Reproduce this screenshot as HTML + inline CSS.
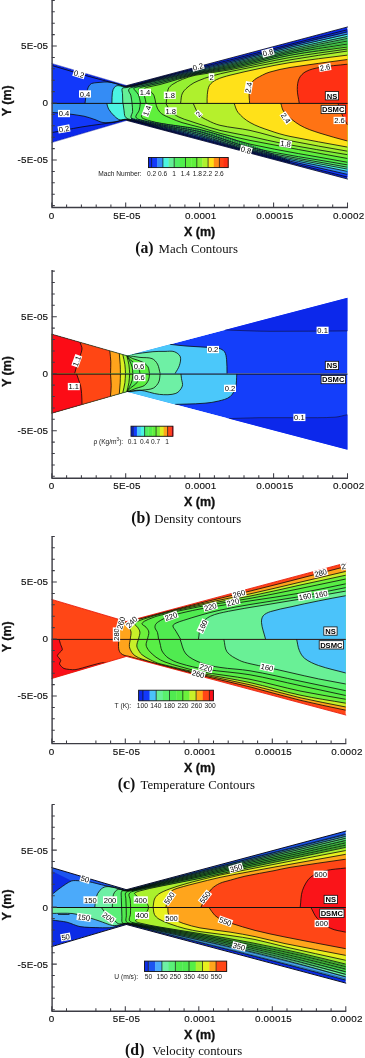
<!DOCTYPE html>
<html><head><meta charset="utf-8"><title>Nozzle contours</title>
<style>html,body{margin:0;padding:0;background:#fff}svg{display:block}</style></head>
<body>
<svg width="365" height="1058" viewBox="0 0 365 1058" font-family="'Liberation Sans',sans-serif">
<!-- panel a -->
<clipPath id="cau"><polygon points="51.8,103 51.8,63.5 126.8,85.6 347.5,27 347.5,103"/></clipPath>
<g clip-path="url(#cau)">
<polygon points="51.8,103 51.8,63.5 126.8,85.6 347.5,27 347.5,103" fill="#0c28eb"/>
<path d="M51.8 65.5C62.9 68.8 73.9 72.2 85 75.4C95 78.2 105 80.8 115 83.4C118.9 84.4 122.9 86.6 126.8 86.1C137.9 84.7 148.9 80.3 160 77.4C171.7 74.4 183.3 71.5 195 68.6C206.7 65.7 218.4 63 230 60C250 54.9 270 49.6 290 44.4C309.2 39.4 328.3 34.6 347.5 29.7L350.5 29.7L350.5 103L51.8 103Z" fill="#1238fa"/>
<path d="M85 103C85.3 100.5 85.6 98.1 86 95.6C86.4 93.5 86.9 91.4 87.5 89.4C87.9 88.2 88.3 86.9 89 85.9C89.6 85 90.5 84 91.5 83.5C93.2 82.9 95.2 82.8 97 82.6C99.3 82.3 101.7 82.1 104 82C106 82 108 81.9 110 82.2C112.7 82.6 115.4 83.4 118 84.1C121 84.9 123.8 87.1 126.8 86.6C137.8 85.1 148.9 80.9 160 78.1C171.6 75.2 183.3 72.4 195 69.6C206.7 66.9 218.4 64.5 230 61.6C250.1 56.6 270 51 290 45.9C309.1 41.1 328.3 36.6 347.5 31.9L350.5 31.9L350.5 103L85 103Z" fill="#348cf5"/>
<path d="M111.9 103C112.1 99.4 111.8 95.7 112.4 92.2C112.7 90.4 113.4 88.5 114.5 87.2C115.3 86.3 116.8 85.6 118 85.6C120.9 85.6 123.9 87.6 126.8 87.1C137.9 85.3 148.9 81.4 160 78.8C171.6 76 183.3 73.3 195 70.7C206.7 68 218.4 65.7 230 62.9C250.1 58 269.9 52.3 290 47.4C309.1 42.8 328.3 38.6 347.5 34.2L350.5 34.2L350.5 103L111.9 103Z" fill="#4bf5e1"/>
<path d="M122.8 103C122.7 99.9 122.6 96.8 122.5 93.7C122.4 91.9 121.5 89.5 122.3 88.4C123 87.4 125.3 87.9 126.8 87.5C137.9 84.9 148.9 82 160 79.4C171.6 76.7 183.3 74.1 195 71.6C206.7 69 218.4 66.8 230 64C250.1 59.2 269.9 53.7 290 48.9C309.1 44.5 328.3 40.6 347.5 36.4L350.5 36.4L350.5 103L122.8 103Z" fill="#64f096"/>
<path d="M132 103C131.6 100.4 131.5 97.8 130.8 95.2C130.3 93.5 128.5 91.7 128.6 90.1C128.7 89 130.2 87.7 131.5 87.3C140.7 84.4 150.5 82.4 160 80.2C171.6 77.5 183.3 75 195 72.5C206.7 70 218.4 67.8 230 65.1C250.1 60.5 269.9 55 290 50.5C309.1 46.1 328.3 42.4 347.5 38.4L350.5 38.4L350.5 103L132 103Z" fill="#50ee64"/>
<path d="M140.4 103C139.8 100.3 139.6 97.3 138.5 94.8C137.6 92.9 135.8 91.5 134.5 89.8C134.2 89.4 133.5 88.6 133.8 88.4C134.7 87.6 136.5 87.1 138 86.7C145.3 84.8 152.7 83.2 160 81.5C171.7 78.7 183.3 75.7 195 73.2C206.6 70.6 218.4 68.9 230 66.3C250.1 61.8 269.9 56.3 290 52C309.1 47.9 328.3 44.7 347.5 41L350.5 41L350.5 103L140.4 103Z" fill="#50ee4b"/>
<path d="M146 103C145.5 100.8 145.4 98.4 144.5 96.4C143.6 94.3 141.9 92.6 140.5 90.8C140 90.1 138.5 89.3 138.8 88.8C139.3 88 141.5 87.2 143 86.8C148.6 85.3 154.4 84.3 160 82.9C171.7 80 183.2 76.5 195 73.9C206.6 71.3 218.4 69.9 230 67.4C250.1 63.1 269.9 57.5 290 53.5C309 49.7 328.3 47.2 347.5 44L350.5 44L350.5 103L146 103Z" fill="#5ff03c"/>
<path d="M155.7 103C155.1 100.5 155 97.8 154 95.6C153.1 93.8 151.6 91.9 150 90.7C148.5 89.6 144.9 89.5 144.5 88.7C144.2 88.3 146.8 87.4 148 87.1C151.9 86 156 85.6 160 84.5C171.7 81.4 183.2 77.3 195 74.6C206.5 72 218.4 70.9 230 68.5C250.1 64.4 269.9 59 290 55.3C309 51.8 328.3 49.8 347.5 47L350.5 47L350.5 103L155.7 103Z" fill="#7df037"/>
<path d="M166.2 103C166.9 98.4 166.7 93.3 168.2 89.1C168.9 87 171.1 85.4 172.9 84.2C175.8 82.2 179.2 80.6 182.5 79.3C186.5 77.7 190.7 76.2 195 75.3C206.6 73 218.4 72 230 69.8C250.1 66.1 269.9 61 290 57.5C309.1 54.1 328.3 51.8 347.5 49L350.5 49L350.5 103L166.2 103Z" fill="#96f032"/>
<path d="M180.6 103C181.2 99.7 181 95.9 182.5 93C184.2 89.9 187.4 87.4 190.2 85.2C192.5 83.4 195.3 82 198 80.9C202.4 79 206.9 77.4 211.5 76.1C217.6 74.3 223.8 72.9 230 71.6C250 67.5 269.9 63.4 290 59.9C309.1 56.5 328.3 54 347.5 51L350.5 51L350.5 103L180.6 103Z" fill="#aff02d"/>
<path d="M207.1 103C207.2 100.2 206.9 97.3 207.3 94.5C207.7 91.4 207.9 87.8 209.5 85.3C211 82.9 213.8 81 216.4 79.7C220.6 77.7 225.4 76.4 230 75.2C239.9 72.7 250 70.5 260 68.4C270 66.3 279.9 64.1 290 62.6C309.1 59.7 328.3 57.6 347.5 55.1L350.5 55.1L350.5 103L207.1 103Z" fill="#ffe119"/>
<path d="M249.6 103C249.5 99.7 248.8 96.3 249.2 93C249.7 89.2 250.3 84.6 252.5 81.7C254.7 78.7 258.9 77.1 262.3 75.2C264.7 73.9 267.3 72.7 270 72C276.6 70.1 283.3 68.6 290 67.5C309.1 64.4 328.3 62.2 347.5 59.5L350.5 59.5L350.5 103L249.6 103Z" fill="#ff7314"/>
<path d="M299.2 103C298.6 98.5 297.3 94 297.3 89.5C297.3 85.8 297.6 81.6 299.2 78.4C300.5 75.6 303.2 72.9 306 71.5C310.1 69.3 315.1 68.3 319.8 67.4C328.9 65.8 338.3 65.3 347.5 64.2L350.5 64.2L350.5 103L299.2 103Z" fill="#ff3014"/>
<path d="M51.8 65.5C62.9 68.8 73.9 72.2 85 75.4C95 78.2 105 80.8 115 83.4C118.9 84.4 122.9 86.6 126.8 86.1C137.9 84.7 148.9 80.3 160 77.4C171.7 74.4 183.3 71.5 195 68.6C206.7 65.7 218.4 63 230 60C250 54.9 270 49.6 290 44.4C309.2 39.4 328.3 34.6 347.5 29.7" fill="none" stroke="#0a0a0a" stroke-width="0.8"/>
<path d="M85 103C85.3 100.5 85.6 98.1 86 95.6C86.4 93.5 86.9 91.4 87.5 89.4C87.9 88.2 88.3 86.9 89 85.9C89.6 85 90.5 84 91.5 83.5C93.2 82.9 95.2 82.8 97 82.6C99.3 82.3 101.7 82.1 104 82C106 82 108 81.9 110 82.2C112.7 82.6 115.4 83.4 118 84.1C121 84.9 123.8 87.1 126.8 86.6C137.8 85.1 148.9 80.9 160 78.1C171.6 75.2 183.3 72.4 195 69.6C206.7 66.9 218.4 64.5 230 61.6C250.1 56.6 270 51 290 45.9C309.1 41.1 328.3 36.6 347.5 31.9" fill="none" stroke="#0a0a0a" stroke-width="0.8"/>
<path d="M111.9 103C112.1 99.4 111.8 95.7 112.4 92.2C112.7 90.4 113.4 88.5 114.5 87.2C115.3 86.3 116.8 85.6 118 85.6C120.9 85.6 123.9 87.6 126.8 87.1C137.9 85.3 148.9 81.4 160 78.8C171.6 76 183.3 73.3 195 70.7C206.7 68 218.4 65.7 230 62.9C250.1 58 269.9 52.3 290 47.4C309.1 42.8 328.3 38.6 347.5 34.2" fill="none" stroke="#0a0a0a" stroke-width="0.8"/>
<path d="M122.8 103C122.7 99.9 122.6 96.8 122.5 93.7C122.4 91.9 121.5 89.5 122.3 88.4C123 87.4 125.3 87.9 126.8 87.5C137.9 84.9 148.9 82 160 79.4C171.6 76.7 183.3 74.1 195 71.6C206.7 69 218.4 66.8 230 64C250.1 59.2 269.9 53.7 290 48.9C309.1 44.5 328.3 40.6 347.5 36.4" fill="none" stroke="#0a0a0a" stroke-width="0.8"/>
<path d="M132 103C131.6 100.4 131.5 97.8 130.8 95.2C130.3 93.5 128.5 91.7 128.6 90.1C128.7 89 130.2 87.7 131.5 87.3C140.7 84.4 150.5 82.4 160 80.2C171.6 77.5 183.3 75 195 72.5C206.7 70 218.4 67.8 230 65.1C250.1 60.5 269.9 55 290 50.5C309.1 46.1 328.3 42.4 347.5 38.4" fill="none" stroke="#0a0a0a" stroke-width="0.8"/>
<path d="M140.4 103C139.8 100.3 139.6 97.3 138.5 94.8C137.6 92.9 135.8 91.5 134.5 89.8C134.2 89.4 133.5 88.6 133.8 88.4C134.7 87.6 136.5 87.1 138 86.7C145.3 84.8 152.7 83.2 160 81.5C171.7 78.7 183.3 75.7 195 73.2C206.6 70.6 218.4 68.9 230 66.3C250.1 61.8 269.9 56.3 290 52C309.1 47.9 328.3 44.7 347.5 41" fill="none" stroke="#0a0a0a" stroke-width="0.8"/>
<path d="M146 103C145.5 100.8 145.4 98.4 144.5 96.4C143.6 94.3 141.9 92.6 140.5 90.8C140 90.1 138.5 89.3 138.8 88.8C139.3 88 141.5 87.2 143 86.8C148.6 85.3 154.4 84.3 160 82.9C171.7 80 183.2 76.5 195 73.9C206.6 71.3 218.4 69.9 230 67.4C250.1 63.1 269.9 57.5 290 53.5C309 49.7 328.3 47.2 347.5 44" fill="none" stroke="#0a0a0a" stroke-width="0.8"/>
<path d="M155.7 103C155.1 100.5 155 97.8 154 95.6C153.1 93.8 151.6 91.9 150 90.7C148.5 89.6 144.9 89.5 144.5 88.7C144.2 88.3 146.8 87.4 148 87.1C151.9 86 156 85.6 160 84.5C171.7 81.4 183.2 77.3 195 74.6C206.5 72 218.4 70.9 230 68.5C250.1 64.4 269.9 59 290 55.3C309 51.8 328.3 49.8 347.5 47" fill="none" stroke="#0a0a0a" stroke-width="0.8"/>
<path d="M166.2 103C166.9 98.4 166.7 93.3 168.2 89.1C168.9 87 171.1 85.4 172.9 84.2C175.8 82.2 179.2 80.6 182.5 79.3C186.5 77.7 190.7 76.2 195 75.3C206.6 73 218.4 72 230 69.8C250.1 66.1 269.9 61 290 57.5C309.1 54.1 328.3 51.8 347.5 49" fill="none" stroke="#0a0a0a" stroke-width="0.8"/>
<path d="M180.6 103C181.2 99.7 181 95.9 182.5 93C184.2 89.9 187.4 87.4 190.2 85.2C192.5 83.4 195.3 82 198 80.9C202.4 79 206.9 77.4 211.5 76.1C217.6 74.3 223.8 72.9 230 71.6C250 67.5 269.9 63.4 290 59.9C309.1 56.5 328.3 54 347.5 51" fill="none" stroke="#0a0a0a" stroke-width="0.8"/>
<path d="M207.1 103C207.2 100.2 206.9 97.3 207.3 94.5C207.7 91.4 207.9 87.8 209.5 85.3C211 82.9 213.8 81 216.4 79.7C220.6 77.7 225.4 76.4 230 75.2C239.9 72.7 250 70.5 260 68.4C270 66.3 279.9 64.1 290 62.6C309.1 59.7 328.3 57.6 347.5 55.1" fill="none" stroke="#0a0a0a" stroke-width="0.8"/>
<path d="M249.6 103C249.5 99.7 248.8 96.3 249.2 93C249.7 89.2 250.3 84.6 252.5 81.7C254.7 78.7 258.9 77.1 262.3 75.2C264.7 73.9 267.3 72.7 270 72C276.6 70.1 283.3 68.6 290 67.5C309.1 64.4 328.3 62.2 347.5 59.5" fill="none" stroke="#0a0a0a" stroke-width="0.8"/>
<path d="M299.2 103C298.6 98.5 297.3 94 297.3 89.5C297.3 85.8 297.6 81.6 299.2 78.4C300.5 75.6 303.2 72.9 306 71.5C310.1 69.3 315.1 68.3 319.8 67.4C328.9 65.8 338.3 65.3 347.5 64.2" fill="none" stroke="#0a0a0a" stroke-width="0.8"/>
<path d="M131 87.9C140.7 86.5 150.4 85.5 160 83.6C171.8 81.1 183.2 77.2 195 74.7C206.6 72.3 218.4 71.4 230 69C250.1 64.9 269.9 59.3 290 55.2C309.1 51.4 328.3 48.6 347.5 45.3" fill="none" stroke="#04143a" stroke-width="0.5" stroke-opacity="0.6"/>
<path d="M131 87.4C140.7 85.8 150.4 84.5 160 82.5C171.8 79.9 183.2 76.1 195 73.6C206.6 71.1 218.4 69.9 230 67.4C250.1 63.1 269.9 57.5 290 53.3C309.1 49.2 328.3 46.1 347.5 42.5" fill="none" stroke="#04143a" stroke-width="0.5" stroke-opacity="0.6"/>
<path d="M131 86.9C140.7 85 150.4 83.5 160 81.3C171.7 78.7 183.3 75.1 195 72.5C206.6 69.9 218.4 68.3 230 65.7C250.1 61.3 269.9 55.8 290 51.3C309.1 47.1 328.3 43.5 347.5 39.6" fill="none" stroke="#04143a" stroke-width="0.5" stroke-opacity="0.6"/>
<path d="M131 86.4C140.7 84.3 150.4 82.5 160 80.2C171.7 77.5 183.3 74.1 195 71.4C206.6 68.7 218.4 66.8 230 64.1C250.1 59.4 269.9 54 290 49.3C309.1 44.9 328.3 41 347.5 36.8" fill="none" stroke="#04143a" stroke-width="0.5" stroke-opacity="0.6"/>
<path d="M131 85.8C140.7 83.6 150.4 81.5 160 79.1C171.7 76.3 183.3 73 195 70.2C206.6 67.5 218.4 65.3 230 62.5C250 57.6 270 52.2 290 47.4C309.1 42.7 328.3 38.4 347.5 33.9" fill="none" stroke="#04143a" stroke-width="0.5" stroke-opacity="0.6"/>
<path d="M131 85.3C140.7 82.9 150.3 80.4 160 78C171.7 75 183.3 72 195 69.1C206.6 66.3 218.4 63.7 230 60.8C250 55.8 270 50.4 290 45.4C309.1 40.5 328.3 35.8 347.5 31.1" fill="none" stroke="#04143a" stroke-width="0.5" stroke-opacity="0.6"/>
</g>
<clipPath id="cal"><polygon points="51.8,103 51.8,142.5 126.8,120.4 347.5,179 347.5,103"/></clipPath>
<g clip-path="url(#cal)">
<polygon points="51.8,103 51.8,142.5 126.8,120.4 347.5,179 347.5,103" fill="#0c28eb"/>
<path d="M51.8 132.6C56.2 131.8 60.6 130.9 65 130.1C70.7 129 76.3 127.8 82 126.9C88.5 125.8 95.1 125 101.7 124.1C106.1 123.5 110.6 122.9 115 122.2C119 121.5 122.9 119.3 126.8 119.9C137.9 121.4 148.9 125.7 160 128.6C173.3 132 186.7 135.4 200 138.9C216.7 143.3 233.3 148 250 152.4C282.5 160.8 315 168.9 347.5 177.1L350.5 177.1L350.5 103L51.8 103Z" fill="#1238fa"/>
<path d="M51.8 112.5C55.9 112.8 60 112.9 64 113.4C70.7 114.2 77.4 114.9 84 116.2C87.8 117 91.4 118.4 95 119.6C97.7 120.5 100.2 122.2 103 122.5C106.9 123 111 122.3 115 121.8C119 121.3 122.9 119 126.8 119.5C137.9 121 148.9 125.1 160 127.9C173.3 131.2 186.7 134.3 200 137.8C216.7 142.2 233.2 147.4 250 151.6C282.4 159.7 315 166.8 347.5 174.4L350.5 174.4L350.5 103L51.8 103Z" fill="#348cf5"/>
<path d="M106.7 103C107.3 105 107.5 107.2 108.6 109C110.1 111.6 112.2 114 114.4 116.1C116 117.6 117.9 119.4 120 119.9C122.1 120.4 124.6 118.8 126.8 119.2C137.9 121.2 148.9 124.5 160 127.1C173.3 130.3 186.8 133 200 136.5C216.8 140.9 233.1 146.9 250 150.9C282.3 158.5 315 164.6 347.5 171.4L350.5 171.4L350.5 103L106.7 103Z" fill="#4bf5e1"/>
<path d="M123 103C123.3 105.4 123.6 107.9 124 110.3C124.4 112.5 124.2 115.2 125.3 116.9C126.2 118.3 128.3 119 130 119.4C139.9 122.1 150 124.1 160 126.3C173.3 129.3 186.8 131.7 200 135.2C216.8 139.7 233.1 146.2 250 150.1C282.2 157.5 315 162.8 347.5 169.1L350.5 169.1L350.5 103L123 103Z" fill="#64f096"/>
<path d="M132 103C132.2 105.8 132.8 108.7 132.6 111.5C132.5 113.5 130.5 115.9 131 117.4C131.3 118.6 133.5 119.4 135 119.8C143.2 122.1 151.6 123.8 160 125.5C173.3 128.4 186.9 130.2 200 133.6C216.9 137.9 233 145 250 148.9C282.2 156.2 315 161.1 347.5 167.2L350.5 167.2L350.5 103L132 103Z" fill="#50ee64"/>
<path d="M140.3 103C139.9 105.4 140 108 139.2 110.2C138.5 112.4 136.1 114.5 135.8 116.5C135.7 117.4 136.9 118.7 138 119.1C145 121.4 152.6 123 160 124.5C173.3 127.2 186.9 128.4 200 131.7C216.9 136 233 143.6 250 147.4C282.2 154.7 315 159.1 347.5 164.9L350.5 164.9L350.5 103L140.3 103Z" fill="#50ee4b"/>
<path d="M146 103C145.7 105.2 145.9 107.4 145.2 109.5C144.4 111.8 141.9 114 141.5 116.2C141.3 117.1 142.5 118.4 143.5 118.7C148.7 120.7 154.4 122.1 160 123.2C173.2 125.7 186.9 126.5 200 129.5C216.9 133.4 233.1 140.3 250 144.1C282.2 151.3 315 156.2 347.5 162.3L350.5 162.3L350.5 103L146 103Z" fill="#5ff03c"/>
<path d="M155.7 103C156.2 104.7 156.5 106.6 157.3 108.1C158.4 110.1 159.7 112.3 161.5 113.6C164.4 115.8 168 117 171.3 118.5C174.8 120 178.4 121.4 182 122.6C187.9 124.4 194 125.6 200 127.3C206.7 129.2 213.3 131.6 220 133.3C229.9 135.9 239.9 138.4 250 140.4C282.4 146.8 315 152.4 347.5 158.5L350.5 158.5L350.5 103L155.7 103Z" fill="#7df037"/>
<path d="M165.6 103C167.3 105.7 168.5 108.8 170.7 111.1C172.9 113.5 175.9 115.5 178.8 117C182.3 118.8 186.2 119.8 190 121.1C193.3 122.3 196.7 123.3 200 124.4C206.7 126.4 213.2 128.8 220 130.4C229.9 132.8 240 134.2 250 136.3C261.9 138.8 273.7 141.9 285.6 144.1C306.2 148 326.9 151.2 347.5 154.7L350.5 154.7L350.5 103L165.6 103Z" fill="#9bf032"/>
<path d="M193 103C195 106.9 196.3 111.4 199 114.7C201.1 117.2 204.5 118.8 207.5 120.3C211.5 122.3 215.7 124.3 220 125.3C229.8 127.7 240.1 128.2 250 130.4C263.4 133.3 276.5 137.8 290 140.7C309 144.7 328.3 147.7 347.5 151.2L350.5 151.2L350.5 103L193 103Z" fill="#b6f02c"/>
<path d="M234 103C235.3 106.1 235.9 109.8 238 112.4C241.2 116.3 245.5 120 250 122.5C256.2 126.1 263.2 128.4 270 130.7C276.5 133 283.2 135 290 136.4C309.1 140.4 328.3 143.5 347.5 147.1L350.5 147.1L350.5 103L234 103Z" fill="#ffe119"/>
<path d="M280.7 103C281.8 106 282 109.6 284 111.9C288.4 117 294.1 121.7 300 125.2C306.1 128.8 313.2 131 320 133.2C329 136.2 338.3 138.4 347.5 141L350.5 141L350.5 103L280.7 103Z" fill="#ff7314"/>
<path d="M338 103C338.7 105.5 339 108.1 340 110.4C342.2 115.4 345 120.2 347.5 125L350.5 125L350.5 103L338 103Z" fill="#ff3014"/>
<path d="M51.8 132.6C56.2 131.8 60.6 130.9 65 130.1C70.7 129 76.3 127.8 82 126.9C88.5 125.8 95.1 125 101.7 124.1C106.1 123.5 110.6 122.9 115 122.2C119 121.5 122.9 119.3 126.8 119.9C137.9 121.4 148.9 125.7 160 128.6C173.3 132 186.7 135.4 200 138.9C216.7 143.3 233.3 148 250 152.4C282.5 160.8 315 168.9 347.5 177.1" fill="none" stroke="#0a0a0a" stroke-width="0.8"/>
<path d="M51.8 112.5C55.9 112.8 60 112.9 64 113.4C70.7 114.2 77.4 114.9 84 116.2C87.8 117 91.4 118.4 95 119.6C97.7 120.5 100.2 122.2 103 122.5C106.9 123 111 122.3 115 121.8C119 121.3 122.9 119 126.8 119.5C137.9 121 148.9 125.1 160 127.9C173.3 131.2 186.7 134.3 200 137.8C216.7 142.2 233.2 147.4 250 151.6C282.4 159.7 315 166.8 347.5 174.4" fill="none" stroke="#0a0a0a" stroke-width="0.8"/>
<path d="M106.7 103C107.3 105 107.5 107.2 108.6 109C110.1 111.6 112.2 114 114.4 116.1C116 117.6 117.9 119.4 120 119.9C122.1 120.4 124.6 118.8 126.8 119.2C137.9 121.2 148.9 124.5 160 127.1C173.3 130.3 186.8 133 200 136.5C216.8 140.9 233.1 146.9 250 150.9C282.3 158.5 315 164.6 347.5 171.4" fill="none" stroke="#0a0a0a" stroke-width="0.8"/>
<path d="M123 103C123.3 105.4 123.6 107.9 124 110.3C124.4 112.5 124.2 115.2 125.3 116.9C126.2 118.3 128.3 119 130 119.4C139.9 122.1 150 124.1 160 126.3C173.3 129.3 186.8 131.7 200 135.2C216.8 139.7 233.1 146.2 250 150.1C282.2 157.5 315 162.8 347.5 169.1" fill="none" stroke="#0a0a0a" stroke-width="0.8"/>
<path d="M132 103C132.2 105.8 132.8 108.7 132.6 111.5C132.5 113.5 130.5 115.9 131 117.4C131.3 118.6 133.5 119.4 135 119.8C143.2 122.1 151.6 123.8 160 125.5C173.3 128.4 186.9 130.2 200 133.6C216.9 137.9 233 145 250 148.9C282.2 156.2 315 161.1 347.5 167.2" fill="none" stroke="#0a0a0a" stroke-width="0.8"/>
<path d="M140.3 103C139.9 105.4 140 108 139.2 110.2C138.5 112.4 136.1 114.5 135.8 116.5C135.7 117.4 136.9 118.7 138 119.1C145 121.4 152.6 123 160 124.5C173.3 127.2 186.9 128.4 200 131.7C216.9 136 233 143.6 250 147.4C282.2 154.7 315 159.1 347.5 164.9" fill="none" stroke="#0a0a0a" stroke-width="0.8"/>
<path d="M146 103C145.7 105.2 145.9 107.4 145.2 109.5C144.4 111.8 141.9 114 141.5 116.2C141.3 117.1 142.5 118.4 143.5 118.7C148.7 120.7 154.4 122.1 160 123.2C173.2 125.7 186.9 126.5 200 129.5C216.9 133.4 233.1 140.3 250 144.1C282.2 151.3 315 156.2 347.5 162.3" fill="none" stroke="#0a0a0a" stroke-width="0.8"/>
<path d="M155.7 103C156.2 104.7 156.5 106.6 157.3 108.1C158.4 110.1 159.7 112.3 161.5 113.6C164.4 115.8 168 117 171.3 118.5C174.8 120 178.4 121.4 182 122.6C187.9 124.4 194 125.6 200 127.3C206.7 129.2 213.3 131.6 220 133.3C229.9 135.9 239.9 138.4 250 140.4C282.4 146.8 315 152.4 347.5 158.5" fill="none" stroke="#0a0a0a" stroke-width="0.8"/>
<path d="M165.6 103C167.3 105.7 168.5 108.8 170.7 111.1C172.9 113.5 175.9 115.5 178.8 117C182.3 118.8 186.2 119.8 190 121.1C193.3 122.3 196.7 123.3 200 124.4C206.7 126.4 213.2 128.8 220 130.4C229.9 132.8 240 134.2 250 136.3C261.9 138.8 273.7 141.9 285.6 144.1C306.2 148 326.9 151.2 347.5 154.7" fill="none" stroke="#0a0a0a" stroke-width="0.8"/>
<path d="M193 103C195 106.9 196.3 111.4 199 114.7C201.1 117.2 204.5 118.8 207.5 120.3C211.5 122.3 215.7 124.3 220 125.3C229.8 127.7 240.1 128.2 250 130.4C263.4 133.3 276.5 137.8 290 140.7C309 144.7 328.3 147.7 347.5 151.2" fill="none" stroke="#0a0a0a" stroke-width="0.8"/>
<path d="M234 103C235.3 106.1 235.9 109.8 238 112.4C241.2 116.3 245.5 120 250 122.5C256.2 126.1 263.2 128.4 270 130.7C276.5 133 283.2 135 290 136.4C309.1 140.4 328.3 143.5 347.5 147.1" fill="none" stroke="#0a0a0a" stroke-width="0.8"/>
<path d="M280.7 103C281.8 106 282 109.6 284 111.9C288.4 117 294.1 121.7 300 125.2C306.1 128.8 313.2 131 320 133.2C329 136.2 338.3 138.4 347.5 141" fill="none" stroke="#0a0a0a" stroke-width="0.8"/>
<path d="M338 103C338.7 105.5 339 108.1 340 110.4C342.2 115.4 345 120.2 347.5 125" fill="none" stroke="#0a0a0a" stroke-width="0.8"/>
<path d="M131 118.4C140.7 120 150.3 121.6 160 123.3C173.3 125.6 186.8 127.1 200 130.1C213.5 133.2 226.9 137 240 141.5C256.9 147.3 273.3 154.4 290 160.8" fill="none" stroke="#040e3a" stroke-width="0.7" stroke-opacity="0.85" stroke-dasharray="1.8 0.6"/>
<path d="M131 118.8C140.7 120.5 150.3 122.3 160 124C173.3 126.5 186.8 128.3 200 131.4C213.5 134.5 226.9 138.3 240 142.6C256.9 148.2 273.3 155 290 161.2" fill="none" stroke="#040e3a" stroke-width="0.7" stroke-opacity="0.85" stroke-dasharray="1.8 0.6"/>
<path d="M131 119.1C140.7 121 150.3 122.9 160 124.8C173.3 127.4 186.8 129.4 200 132.6C213.5 135.8 226.8 139.5 240 143.7C256.8 149.1 273.3 155.5 290 161.5" fill="none" stroke="#040e3a" stroke-width="0.7" stroke-opacity="0.85" stroke-dasharray="1.8 0.6"/>
<path d="M131 119.5C140.7 121.5 150.3 123.5 160 125.5C173.3 128.3 186.8 130.6 200 133.8C213.4 137 226.8 140.7 240 144.8C256.8 150 273.3 156.1 290 161.8" fill="none" stroke="#040e3a" stroke-width="0.7" stroke-opacity="0.85" stroke-dasharray="1.8 0.6"/>
<path d="M131 119.9C140.7 122 150.3 124.1 160 126.2C173.3 129.2 186.7 131.8 200 135C213.4 138.3 226.8 141.9 240 145.9C256.8 150.9 273.3 156.7 290 162.1" fill="none" stroke="#040e3a" stroke-width="0.7" stroke-opacity="0.85" stroke-dasharray="1.8 0.6"/>
<path d="M131 120.3C140.7 122.5 150.3 124.7 160 127C173.3 130.1 186.7 132.9 200 136.2C213.4 139.6 226.7 143.2 240 147C256.7 151.9 273.3 157.2 290 162.4" fill="none" stroke="#040e3a" stroke-width="0.7" stroke-opacity="0.85" stroke-dasharray="1.8 0.6"/>
<path d="M131 120.7C140.7 123 150.3 125.4 160 127.7C173.3 131 186.7 134.1 200 137.5C213.4 140.9 226.7 144.4 240 148.1C256.7 152.8 273.3 157.8 290 162.7" fill="none" stroke="#040e3a" stroke-width="0.7" stroke-opacity="0.85" stroke-dasharray="1.8 0.6"/>
<path d="M131 121C140.7 123.5 150.3 126 160 128.5C173.3 131.9 186.7 135.2 200 138.7C213.3 142.1 226.7 145.6 240 149.2C256.7 153.7 273.3 158.4 290 163" fill="none" stroke="#040e3a" stroke-width="0.7" stroke-opacity="0.85" stroke-dasharray="1.8 0.6"/>
</g>
<path d="M51.8 103.4H347.5" stroke="#111" stroke-width="1"/>
<path d="M51.8 63.5L126.8 85.6M51.8 142.5L126.8 120.4" fill="none" stroke="#0a1a9a" stroke-width="0.5" stroke-linecap="round"/>
<path d="M126.8 85.6L347.5 27M126.8 120.4L347.5 179" fill="none" stroke="#070b28" stroke-width="0.9" stroke-linecap="round"/>
<g stroke="#3c3c44" stroke-width="1.4" fill="none">
<path d="M52.1 -2V207.5H348"/>
<path d="M51.8 205.6h3M51.8 194.2h3M51.8 182.8h3M51.8 171.4h3M51.8 160h5M51.8 148.6h3M51.8 137.2h3M51.8 125.8h3M51.8 114.4h3M51.8 103h5M51.8 91.6h3M51.8 80.2h3M51.8 68.8h3M51.8 57.4h3M51.8 46h5M51.8 34.6h3M51.8 23.2h3M51.8 11.8h3M51.8 0.4h3M51.8 207.5v-5M66.6 207.5v-3M81.4 207.5v-3M96.2 207.5v-3M110.9 207.5v-3M125.7 207.5v-5M140.5 207.5v-3M155.3 207.5v-3M170.1 207.5v-3M184.9 207.5v-3M199.6 207.5v-5M214.4 207.5v-3M229.2 207.5v-3M244 207.5v-3M258.8 207.5v-3M273.6 207.5v-5M288.4 207.5v-3M303.1 207.5v-3M317.9 207.5v-3M332.7 207.5v-3M347.5 207.5v-5" stroke-width="1.05"/>
</g>
<g font-size="9.9" fill="#0c0c0c" letter-spacing="0.2" stroke="#0c0c0c" stroke-width="0.12">
<text x="48.3" y="49.4" text-anchor="end">5E-05</text>
<text x="48.3" y="106.4" text-anchor="end">0</text>
<text x="48.3" y="163.4" text-anchor="end">-5E-05</text>
<text x="51.5" y="218.5" text-anchor="middle">0</text>
<text x="126.9" y="218.5" text-anchor="middle">5E-05</text>
<text x="200.8" y="218.5" text-anchor="middle">0.0001</text>
<text x="274.8" y="218.5" text-anchor="middle">0.00015</text>
<text x="348.7" y="218.5" text-anchor="middle">0.0002</text>
</g>
<text x="199.6" y="235.5" text-anchor="middle" font-size="12.5" font-weight="bold" fill="#111" stroke="#111" stroke-width="0.3">X (m)</text>
<text transform="translate(10.6 100.8) rotate(-90)" text-anchor="middle" font-size="12.5" font-weight="bold" fill="#111" stroke="#111" stroke-width="0.3">Y (m)</text>
<rect x="148.5" y="157.5" width="3.4" height="10.1" fill="#0c28eb"/>
<rect x="151.6" y="157.5" width="6" height="10.1" fill="#1238fa"/>
<rect x="157.2" y="157.5" width="6" height="10.1" fill="#348cf5"/>
<rect x="162.9" y="157.5" width="6" height="10.1" fill="#4bf5e1"/>
<rect x="168.6" y="157.5" width="5.9" height="10.1" fill="#64f096"/>
<rect x="174.2" y="157.5" width="6" height="10.1" fill="#50ee64"/>
<rect x="179.8" y="157.5" width="6" height="10.1" fill="#50ee4b"/>
<rect x="185.5" y="157.5" width="6" height="10.1" fill="#5ff03c"/>
<rect x="191.2" y="157.5" width="6" height="10.1" fill="#5ff03c"/>
<rect x="196.8" y="157.5" width="5.9" height="10.1" fill="#7df037"/>
<rect x="202.4" y="157.5" width="6" height="10.1" fill="#aff02d"/>
<rect x="208.1" y="157.5" width="6" height="10.1" fill="#ffe119"/>
<rect x="213.8" y="157.5" width="6" height="10.1" fill="#ff8c19"/>
<rect x="219.4" y="157.5" width="4.6" height="10.1" fill="#ff4614"/>
<rect x="223.7" y="157.5" width="4.8" height="10.1" fill="#ff3014"/>
<path d="M151.6 157.5v10.1M162.9 157.5v10.1M174.2 157.5v10.1M185.5 157.5v10.1M196.8 157.5v10.1M208.1 157.5v10.1M219.4 157.5v10.1" stroke="#111" stroke-width="0.7"/>
<rect x="148.5" y="157.5" width="79.7" height="10.1" fill="none" stroke="#111" stroke-width="0.9"/>
<g font-size="6.6" fill="#1a1a1a">
<text x="141.6" y="175.6" text-anchor="end">Mach Number:</text>
<text x="151.7" y="175.6" text-anchor="middle">0.2</text>
<text x="162.6" y="175.6" text-anchor="middle">0.6</text>
<text x="174.1" y="175.6" text-anchor="middle">1</text>
<text x="185.3" y="175.6" text-anchor="middle">1.4</text>
<text x="197.3" y="175.6" text-anchor="middle">1.8</text>
<text x="207.7" y="175.6" text-anchor="middle">2.2</text>
<text x="219.2" y="175.6" text-anchor="middle">2.6</text>
</g>
<g transform="translate(79 74) rotate(17)"><rect x="-6" y="-3.7" width="12" height="7.3" fill="#fff"/><text x="0" y="2.7" text-anchor="middle" font-size="7.6">0.2</text></g>
<g transform="translate(85 94) rotate(0)"><rect x="-6" y="-3.7" width="12" height="7.3" fill="#fff"/><text x="0" y="2.7" text-anchor="middle" font-size="7.6">0.4</text></g>
<g transform="translate(64 113.6) rotate(0)"><rect x="-6" y="-3.7" width="12" height="7.3" fill="#fff"/><text x="0" y="2.7" text-anchor="middle" font-size="7.6">0.4</text></g>
<g transform="translate(64 129) rotate(-10)"><rect x="-6" y="-3.7" width="12" height="7.3" fill="#fff"/><text x="0" y="2.7" text-anchor="middle" font-size="7.6">0.2</text></g>
<g transform="translate(145 92.4) rotate(0)"><rect x="-6" y="-3.7" width="12" height="7.3" fill="#fff"/><text x="0" y="2.7" text-anchor="middle" font-size="7.6">1.4</text></g>
<g transform="translate(169.8 95.3) rotate(0)"><rect x="-6" y="-3.7" width="12" height="7.3" fill="#fff"/><text x="0" y="2.7" text-anchor="middle" font-size="7.6">1.8</text></g>
<g transform="translate(147 110.7) rotate(-70)"><rect x="-6" y="-3.7" width="12" height="7.3" fill="#fff"/><text x="0" y="2.7" text-anchor="middle" font-size="7.6">1.4</text></g>
<g transform="translate(170.7 111) rotate(0)"><rect x="-6" y="-3.7" width="12" height="7.3" fill="#fff"/><text x="0" y="2.7" text-anchor="middle" font-size="7.6">1.8</text></g>
<g transform="translate(198 66.7) rotate(-15)"><rect x="-6" y="-3.7" width="12" height="7.3" fill="#fff"/><text x="0" y="2.7" text-anchor="middle" font-size="7.6">0.2</text></g>
<g transform="translate(211.5 77) rotate(0)"><rect x="-2.8" y="-3.7" width="5.6" height="7.3" fill="#fff"/><text x="0" y="2.7" text-anchor="middle" font-size="7.6">2</text></g>
<g transform="translate(248.6 87.6) rotate(-80)"><rect x="-6" y="-3.7" width="12" height="7.3" fill="#fff"/><text x="0" y="2.7" text-anchor="middle" font-size="7.6">2.4</text></g>
<g transform="translate(198.6 114) rotate(-45)"><rect x="-2.8" y="-3.7" width="5.6" height="7.3" fill="#fff"/><text x="0" y="2.7" text-anchor="middle" font-size="7.6">2</text></g>
<g transform="translate(268 52.6) rotate(-15)"><rect x="-6" y="-3.7" width="12" height="7.3" fill="#fff"/><text x="0" y="2.7" text-anchor="middle" font-size="7.6">0.8</text></g>
<g transform="translate(325 67.5) rotate(-10)"><rect x="-6" y="-3.7" width="12" height="7.3" fill="#fff"/><text x="0" y="2.7" text-anchor="middle" font-size="7.6">2.6</text></g>
<g transform="translate(285.8 118) rotate(55)"><rect x="-6" y="-3.7" width="12" height="7.3" fill="#fff"/><text x="0" y="2.7" text-anchor="middle" font-size="7.6">2.4</text></g>
<g transform="translate(339.5 120.5) rotate(0)"><rect x="-6" y="-3.7" width="12" height="7.3" fill="#fff"/><text x="0" y="2.7" text-anchor="middle" font-size="7.6">2.6</text></g>
<g transform="translate(285.6 143.8) rotate(8)"><rect x="-6" y="-3.7" width="12" height="7.3" fill="#fff"/><text x="0" y="2.7" text-anchor="middle" font-size="7.6">1.8</text></g>
<g transform="translate(246 150) rotate(15)"><rect x="-6" y="-3.7" width="12" height="7.3" fill="#fff"/><text x="0" y="2.7" text-anchor="middle" font-size="7.6">0.8</text></g>
<g transform="translate(332 95.8) rotate(0)"><rect x="-6.7" y="-4.2" width="13.3" height="8.3" fill="#fff" stroke="#111" stroke-width="0.8"/><text x="0" y="2.7" text-anchor="middle" font-size="7.6" font-weight="bold">NS</text></g>
<g transform="translate(333.2 109.5) rotate(0)"><rect x="-12.1" y="-4.2" width="24.3" height="8.3" fill="#fff" stroke="#111" stroke-width="0.8"/><text x="0" y="2.7" text-anchor="middle" font-size="7.6" font-weight="bold">DSMC</text></g>
<g font-family="'Liberation Serif',serif" fill="#111"><text x="135.2" y="253.2" font-weight="bold" font-size="15.8">(a)</text><text x="158.6" y="253.2" font-size="12.8">Mach Contours</text></g>
<!-- panel b -->
<clipPath id="cbu"><polygon points="51.8,373.7 51.8,334.2 126.8,355.7 347.5,297.7 347.5,373.7"/></clipPath>
<g clip-path="url(#cbu)">
<polygon points="51.8,373.7 51.8,334.2 126.8,355.7 347.5,297.7 347.5,373.7" fill="#143efa"/>
<path d="M225 329.9C231.7 330.2 238.3 330.5 245 330.7C253.3 331 261.7 331.3 270 331.3C295.8 331.4 321.7 331 347.5 330.9L350.5 330.9L350.5 263.7L222 263.7L222 329.9Z" fill="#0c28eb"/>
<path d="M170 344.3C175.3 344.9 180.7 345.6 186 346C192.3 346.5 198.7 346.8 205 347.2C209.6 347.5 214.3 347.3 218.7 348.3C220.8 348.8 223.3 350 224.5 351.7C226 353.8 226.3 357 226.6 359.7C227.1 364.3 226.9 369 227 373.7L227 373.7L48.8 373.7L48.8 263.7L170 263.7Z" fill="#4bc8fa"/>
<path d="M132 354.3C139 353.5 145.9 352.3 152.9 351.7C156.9 351.3 161 351.4 165 351.4C168.1 351.4 171.5 350.7 174.3 351.7C176.6 352.5 179.5 354.5 180.3 356.7C181.2 359.2 180.2 362.9 179.3 365.7C178.4 368.5 176.4 371 175 373.7L175 373.7L48.8 373.7L48.8 263.7L132 263.7Z" fill="#6ef0a5"/>
<path d="M127.5 355.5C131.7 356.1 135.8 356.9 140 357.4C144 357.9 148.5 357.2 152 358.6C154.3 359.5 156.3 361.9 157.5 364.1C159 366.9 159.3 370.5 160.2 373.7L160.2 373.7L48.8 373.7L48.8 263.7L127.5 263.7Z" fill="#6cf088"/>
<path d="M127.2 355.6C129.1 356.6 130.9 357.8 132.8 358.6C135.9 359.9 139.5 360.4 142.4 362C144.5 363.1 146.7 364.8 147.9 366.8C149.1 368.7 149 371.4 149.5 373.7L149.5 373.7L48.8 373.7L48.8 263.7L127.2 263.7Z" fill="#5cf040"/>
<path d="M127 355.6C127.8 356.8 128.5 358.2 129.5 359.2C131 360.7 133 361.7 134.5 363.2C136 364.7 137.7 366.3 138.7 368.2C139.6 369.8 139.6 371.9 140 373.7L140 373.7L48.8 373.7L48.8 263.7L127 263.7Z" fill="#52ee52"/>
<path d="M126.9 355.7C127.8 357.3 128.8 359 129.6 360.7C130.6 362.8 131.6 365 132.2 367.2C132.7 369.3 132.6 371.5 132.8 373.7L132.8 373.7L48.8 373.7L48.8 263.7L126.9 263.7Z" fill="#70f03a"/>
<path d="M126.8 355.7C127.5 358.7 128.4 361.7 128.9 364.7C129.4 367.7 129.4 370.7 129.7 373.7L129.7 373.7L48.8 373.7L48.8 263.7L126.8 263.7Z" fill="#96f032"/>
<path d="M122.8 354.6C123.5 357.9 124.4 361.3 124.9 364.7C125.3 367.7 125.3 370.7 125.5 373.7L125.5 373.7L48.8 373.7L48.8 263.7L122.8 263.7Z" fill="#dcf022"/>
<path d="M119.3 353.6C119.6 357.3 120 361 120.2 364.7C120.4 367.7 120.3 370.7 120.4 373.7L120.4 373.7L48.8 373.7L48.8 263.7L119.3 263.7Z" fill="#ffa41c"/>
<path d="M109.8 350.8C110.1 354.5 110.7 358.1 110.8 361.7C110.9 365.7 110.6 369.7 110.5 373.7L110.5 373.7L48.8 373.7L48.8 263.7L109.8 263.7Z" fill="#ff4614"/>
<path d="M80 342.3C80.7 344.6 82.2 346.8 82 349.1C81.6 353.2 79.2 357.2 78 361.3C76.8 365.4 75.7 369.6 74.6 373.7L74.6 373.7L48.8 373.7L48.8 263.7L80 263.7Z" fill="#fc0c16"/>
<path d="M225 329.9C231.7 330.2 238.3 330.5 245 330.7C253.3 331 261.7 331.3 270 331.3C295.8 331.4 321.7 331 347.5 330.9" fill="none" stroke="#101030" stroke-width="0.6"/>
<path d="M170 344.3C175.3 344.9 180.7 345.6 186 346C192.3 346.5 198.7 346.8 205 347.2C209.6 347.5 214.3 347.3 218.7 348.3C220.8 348.8 223.3 350 224.5 351.7C226 353.8 226.3 357 226.6 359.7C227.1 364.3 226.9 369 227 373.7" fill="none" stroke="#0a0a0a" stroke-width="0.8"/>
<path d="M132 354.3C139 353.5 145.9 352.3 152.9 351.7C156.9 351.3 161 351.4 165 351.4C168.1 351.4 171.5 350.7 174.3 351.7C176.6 352.5 179.5 354.5 180.3 356.7C181.2 359.2 180.2 362.9 179.3 365.7C178.4 368.5 176.4 371 175 373.7" fill="none" stroke="#0a0a0a" stroke-width="0.8"/>
<path d="M127.5 355.5C131.7 356.1 135.8 356.9 140 357.4C144 357.9 148.5 357.2 152 358.6C154.3 359.5 156.3 361.9 157.5 364.1C159 366.9 159.3 370.5 160.2 373.7" fill="none" stroke="#0a0a0a" stroke-width="0.8"/>
<path d="M127.2 355.6C129.1 356.6 130.9 357.8 132.8 358.6C135.9 359.9 139.5 360.4 142.4 362C144.5 363.1 146.7 364.8 147.9 366.8C149.1 368.7 149 371.4 149.5 373.7" fill="none" stroke="#0a0a0a" stroke-width="0.8"/>
<path d="M127 355.6C127.8 356.8 128.5 358.2 129.5 359.2C131 360.7 133 361.7 134.5 363.2C136 364.7 137.7 366.3 138.7 368.2C139.6 369.8 139.6 371.9 140 373.7" fill="none" stroke="#0a0a0a" stroke-width="0.8"/>
<path d="M126.9 355.7C127.8 357.3 128.8 359 129.6 360.7C130.6 362.8 131.6 365 132.2 367.2C132.7 369.3 132.6 371.5 132.8 373.7" fill="none" stroke="#0a0a0a" stroke-width="0.8"/>
<path d="M126.8 355.7C127.5 358.7 128.4 361.7 128.9 364.7C129.4 367.7 129.4 370.7 129.7 373.7" fill="none" stroke="#0a0a0a" stroke-width="0.8"/>
<path d="M122.8 354.6C123.5 357.9 124.4 361.3 124.9 364.7C125.3 367.7 125.3 370.7 125.5 373.7" fill="none" stroke="#0a0a0a" stroke-width="0.8"/>
<path d="M119.3 353.6C119.6 357.3 120 361 120.2 364.7C120.4 367.7 120.3 370.7 120.4 373.7" fill="none" stroke="#0a0a0a" stroke-width="0.8"/>
<path d="M109.8 350.8C110.1 354.5 110.7 358.1 110.8 361.7C110.9 365.7 110.6 369.7 110.5 373.7" fill="none" stroke="#0a0a0a" stroke-width="0.8"/>
<path d="M80 342.3C80.7 344.6 82.2 346.8 82 349.1C81.6 353.2 79.2 357.2 78 361.3C76.8 365.4 75.7 369.6 74.6 373.7" fill="none" stroke="#0a0a0a" stroke-width="0.8"/>
</g>
<clipPath id="cbl"><polygon points="51.8,373.7 51.8,413.2 126.8,391.7 347.5,449.7 347.5,373.7"/></clipPath>
<g clip-path="url(#cbl)">
<polygon points="51.8,373.7 51.8,413.2 126.8,391.7 347.5,449.7 347.5,373.7" fill="#143efa"/>
<path d="M229 418.6C239.3 418.3 249.7 417.8 260 417.7C273.3 417.5 286.7 417.8 300 417.7C311.7 417.6 323.4 417.9 335 417.2C339.2 416.9 343.3 415.5 347.5 414.7L350.5 414.7L350.5 483.7L226 483.7L226 418.6Z" fill="#0c28eb"/>
<path d="M175 404.4C178.7 404.3 182.3 404.2 186 404.1C192.3 403.9 198.7 403.8 205 403.2C209.6 402.8 214.2 402.2 218.7 401C222.6 400 227 399.1 230 396.7C232.6 394.6 234.5 391 235.5 387.7C236.8 383.3 236.4 378.4 236.8 373.7L236.8 373.7L48.8 373.7L48.8 483.7L175 483.7Z" fill="#4bc8fa"/>
<path d="M127.5 391.9C131.6 391.3 135.7 389.9 139.7 390.2C146.3 390.7 152.8 393.8 159.5 394.4C164.9 394.9 171.1 395.1 175.9 393.4C178.7 392.4 181.3 388.9 182.3 386.2C183.1 384 181.8 381.2 181.5 378.7C181.3 377 181.1 375.4 180.9 373.7L180.9 373.7L48.8 373.7L48.8 483.7L127.5 483.7Z" fill="#6ef0a5"/>
<path d="M127.2 391.8C132.3 391.2 137.4 390.8 142.4 390.1C146.1 389.6 150.2 389.7 153.4 388.1C155.7 386.9 157.7 384.3 158.8 381.9C159.9 379.5 159.7 376.4 160.2 373.7L160.2 373.7L48.8 373.7L48.8 483.7L127.2 483.7Z" fill="#6cf088"/>
<path d="M127.1 391.8C130.4 390.6 133.6 389.3 136.9 388.1C139.4 387.2 142.4 386.9 144.5 385.4C146.3 384.1 147.7 381.9 148.6 379.9C149.4 378 149.2 375.8 149.5 373.7L149.5 373.7L48.8 373.7L48.8 483.7L127.1 483.7Z" fill="#5cf040"/>
<path d="M127 391.8C128.2 390.5 129.2 389 130.5 387.9C132 386.5 134.1 385.7 135.5 384.2C136.9 382.8 138.2 381 139 379.2C139.7 377.5 139.7 375.5 140 373.7L140 373.7L48.8 373.7L48.8 483.7L127 483.7Z" fill="#52ee52"/>
<path d="M126.9 391.7C127.8 390.1 128.8 388.4 129.6 386.7C130.6 384.6 131.6 382.4 132.2 380.2C132.7 378.1 132.6 375.9 132.8 373.7L132.8 373.7L48.8 373.7L48.8 483.7L126.9 483.7Z" fill="#70f03a"/>
<path d="M126.8 391.7C127.5 388.7 128.4 385.7 128.9 382.7C129.4 379.7 129.4 376.7 129.7 373.7L129.7 373.7L48.8 373.7L48.8 483.7L126.8 483.7Z" fill="#96f032"/>
<path d="M122.8 392.8C123.5 389.5 124.4 386.1 124.9 382.7C125.3 379.7 125.3 376.7 125.5 373.7L125.5 373.7L48.8 373.7L48.8 483.7L122.8 483.7Z" fill="#dcf022"/>
<path d="M119.3 393.8C119.6 390.1 120 386.4 120.2 382.7C120.4 379.7 120.3 376.7 120.4 373.7L120.4 373.7L48.8 373.7L48.8 483.7L119.3 483.7Z" fill="#ffa41c"/>
<path d="M110.4 396.4C110.7 392.8 111.2 389.3 111.2 385.7C111.2 381.7 110.7 377.7 110.5 373.7L110.5 373.7L48.8 373.7L48.8 483.7L110.4 483.7Z" fill="#ff4614"/>
<path d="M82 404.5C81.9 400.9 81.9 397.3 81.6 393.7C81.4 391.1 81.2 388.5 80.6 386C79.5 381.8 77.9 377.8 76.5 373.7L76.5 373.7L48.8 373.7L48.8 483.7L82 483.7Z" fill="#fc0c16"/>
<path d="M229 418.6C239.3 418.3 249.7 417.8 260 417.7C273.3 417.5 286.7 417.8 300 417.7C311.7 417.6 323.4 417.9 335 417.2C339.2 416.9 343.3 415.5 347.5 414.7" fill="none" stroke="#101030" stroke-width="0.6"/>
<path d="M175 404.4C178.7 404.3 182.3 404.2 186 404.1C192.3 403.9 198.7 403.8 205 403.2C209.6 402.8 214.2 402.2 218.7 401C222.6 400 227 399.1 230 396.7C232.6 394.6 234.5 391 235.5 387.7C236.8 383.3 236.4 378.4 236.8 373.7" fill="none" stroke="#0a0a0a" stroke-width="0.8"/>
<path d="M127.5 391.9C131.6 391.3 135.7 389.9 139.7 390.2C146.3 390.7 152.8 393.8 159.5 394.4C164.9 394.9 171.1 395.1 175.9 393.4C178.7 392.4 181.3 388.9 182.3 386.2C183.1 384 181.8 381.2 181.5 378.7C181.3 377 181.1 375.4 180.9 373.7" fill="none" stroke="#0a0a0a" stroke-width="0.8"/>
<path d="M127.2 391.8C132.3 391.2 137.4 390.8 142.4 390.1C146.1 389.6 150.2 389.7 153.4 388.1C155.7 386.9 157.7 384.3 158.8 381.9C159.9 379.5 159.7 376.4 160.2 373.7" fill="none" stroke="#0a0a0a" stroke-width="0.8"/>
<path d="M127.1 391.8C130.4 390.6 133.6 389.3 136.9 388.1C139.4 387.2 142.4 386.9 144.5 385.4C146.3 384.1 147.7 381.9 148.6 379.9C149.4 378 149.2 375.8 149.5 373.7" fill="none" stroke="#0a0a0a" stroke-width="0.8"/>
<path d="M127 391.8C128.2 390.5 129.2 389 130.5 387.9C132 386.5 134.1 385.7 135.5 384.2C136.9 382.8 138.2 381 139 379.2C139.7 377.5 139.7 375.5 140 373.7" fill="none" stroke="#0a0a0a" stroke-width="0.8"/>
<path d="M126.9 391.7C127.8 390.1 128.8 388.4 129.6 386.7C130.6 384.6 131.6 382.4 132.2 380.2C132.7 378.1 132.6 375.9 132.8 373.7" fill="none" stroke="#0a0a0a" stroke-width="0.8"/>
<path d="M126.8 391.7C127.5 388.7 128.4 385.7 128.9 382.7C129.4 379.7 129.4 376.7 129.7 373.7" fill="none" stroke="#0a0a0a" stroke-width="0.8"/>
<path d="M122.8 392.8C123.5 389.5 124.4 386.1 124.9 382.7C125.3 379.7 125.3 376.7 125.5 373.7" fill="none" stroke="#0a0a0a" stroke-width="0.8"/>
<path d="M119.3 393.8C119.6 390.1 120 386.4 120.2 382.7C120.4 379.7 120.3 376.7 120.4 373.7" fill="none" stroke="#0a0a0a" stroke-width="0.8"/>
<path d="M110.4 396.4C110.7 392.8 111.2 389.3 111.2 385.7C111.2 381.7 110.7 377.7 110.5 373.7" fill="none" stroke="#0a0a0a" stroke-width="0.8"/>
<path d="M82 404.5C81.9 400.9 81.9 397.3 81.6 393.7C81.4 391.1 81.2 388.5 80.6 386C79.5 381.8 77.9 377.8 76.5 373.7" fill="none" stroke="#0a0a0a" stroke-width="0.8"/>
</g>
<path d="M51.8 374.1H347.5" stroke="#111" stroke-width="1"/>
<path d="M51.8 334.2L126.8 355.7M51.8 413.2L126.8 391.7" fill="none" stroke="#181830" stroke-width="0.7" stroke-linecap="round"/>
<g stroke="#3c3c44" stroke-width="1.4" fill="none">
<path d="M52.1 270V478.3H348"/>
<path d="M51.8 476.3h3M51.8 464.9h3M51.8 453.5h3M51.8 442.1h3M51.8 430.7h5M51.8 419.3h3M51.8 407.9h3M51.8 396.5h3M51.8 385.1h3M51.8 373.7h5M51.8 362.3h3M51.8 350.9h3M51.8 339.5h3M51.8 328.1h3M51.8 316.7h5M51.8 305.3h3M51.8 293.9h3M51.8 282.5h3M51.8 271.1h3M51.8 478.3v-5M66.6 478.3v-3M81.4 478.3v-3M96.2 478.3v-3M110.9 478.3v-3M125.7 478.3v-5M140.5 478.3v-3M155.3 478.3v-3M170.1 478.3v-3M184.9 478.3v-3M199.6 478.3v-5M214.4 478.3v-3M229.2 478.3v-3M244 478.3v-3M258.8 478.3v-3M273.6 478.3v-5M288.4 478.3v-3M303.1 478.3v-3M317.9 478.3v-3M332.7 478.3v-3M347.5 478.3v-5" stroke-width="1.05"/>
</g>
<g font-size="9.9" fill="#0c0c0c" letter-spacing="0.2" stroke="#0c0c0c" stroke-width="0.12">
<text x="48.3" y="320.1" text-anchor="end">5E-05</text>
<text x="48.3" y="377.1" text-anchor="end">0</text>
<text x="48.3" y="434.1" text-anchor="end">-5E-05</text>
<text x="51.5" y="489.3" text-anchor="middle">0</text>
<text x="126.9" y="489.3" text-anchor="middle">5E-05</text>
<text x="200.8" y="489.3" text-anchor="middle">0.0001</text>
<text x="274.8" y="489.3" text-anchor="middle">0.00015</text>
<text x="348.7" y="489.3" text-anchor="middle">0.0002</text>
</g>
<text x="199.6" y="506.3" text-anchor="middle" font-size="12.5" font-weight="bold" fill="#111" stroke="#111" stroke-width="0.3">X (m)</text>
<text transform="translate(10.6 371.5) rotate(-90)" text-anchor="middle" font-size="12.5" font-weight="bold" fill="#111" stroke="#111" stroke-width="0.3">Y (m)</text>
<rect x="131" y="426.2" width="2.4" height="10.1" fill="#0c28eb"/>
<rect x="133.1" y="426.2" width="4.1" height="10.1" fill="#143efa"/>
<rect x="136.9" y="426.2" width="4.1" height="10.1" fill="#4bc8fa"/>
<rect x="140.8" y="426.2" width="4.1" height="10.1" fill="#4bf5e1"/>
<rect x="144.6" y="426.2" width="4.1" height="10.1" fill="#50ee64"/>
<rect x="148.4" y="426.2" width="4.1" height="10.1" fill="#50ee4b"/>
<rect x="152.2" y="426.2" width="4.1" height="10.1" fill="#5ff03c"/>
<rect x="156.1" y="426.2" width="4.1" height="10.1" fill="#7df037"/>
<rect x="159.9" y="426.2" width="4.1" height="10.1" fill="#dcf022"/>
<rect x="163.7" y="426.2" width="4.1" height="10.1" fill="#ffa41c"/>
<rect x="167.6" y="426.2" width="4.1" height="10.1" fill="#ff4614"/>
<rect x="171.4" y="426.2" width="1.8" height="10.1" fill="#fc0c16"/>
<path d="M133.1 426.2v10.1M144.6 426.2v10.1M156.1 426.2v10.1M167.6 426.2v10.1" stroke="#111" stroke-width="0.7"/>
<rect x="131" y="426.2" width="41.9" height="10.1" fill="none" stroke="#111" stroke-width="0.9"/>
<g font-size="6.6" fill="#1a1a1a">
<text x="123.2" y="443.9" text-anchor="end">ρ (Kg/m<tspan font-size="4.6" dy="-2.6">3</tspan><tspan dy="2.6">):</tspan></text>
<text x="132.3" y="443.9" text-anchor="middle">0.1</text>
<text x="144.6" y="443.9" text-anchor="middle">0.4</text>
<text x="155.6" y="443.9" text-anchor="middle">0.7</text>
<text x="167" y="443.9" text-anchor="middle">1</text>
</g>
<g transform="translate(76.8 361) rotate(-70)"><rect x="-6" y="-3.7" width="12" height="7.3" fill="#fff"/><text x="0" y="2.7" text-anchor="middle" font-size="7.6">1.1</text></g>
<g transform="translate(73.8 386.6) rotate(0)"><rect x="-6" y="-3.7" width="12" height="7.3" fill="#fff"/><text x="0" y="2.7" text-anchor="middle" font-size="7.6">1.1</text></g>
<g transform="translate(139 366) rotate(0)"><rect x="-6" y="-3.7" width="12" height="7.3" fill="#fff"/><text x="0" y="2.7" text-anchor="middle" font-size="7.6">0.6</text></g>
<g transform="translate(139.5 377.6) rotate(0)"><rect x="-6" y="-3.7" width="12" height="7.3" fill="#fff"/><text x="0" y="2.7" text-anchor="middle" font-size="7.6">0.6</text></g>
<g transform="translate(213 349.6) rotate(0)"><rect x="-6" y="-3.7" width="12" height="7.3" fill="#fff"/><text x="0" y="2.7" text-anchor="middle" font-size="7.6">0.2</text></g>
<g transform="translate(230 388.4) rotate(0)"><rect x="-6" y="-3.7" width="12" height="7.3" fill="#fff"/><text x="0" y="2.7" text-anchor="middle" font-size="7.6">0.2</text></g>
<g transform="translate(322.6 330.4) rotate(0)"><rect x="-6" y="-3.7" width="12" height="7.3" fill="#fff"/><text x="0" y="2.7" text-anchor="middle" font-size="7.6">0.1</text></g>
<g transform="translate(299.4 417.5) rotate(0)"><rect x="-6" y="-3.7" width="12" height="7.3" fill="#fff"/><text x="0" y="2.7" text-anchor="middle" font-size="7.6">0.1</text></g>
<g transform="translate(332 365.5) rotate(0)"><rect x="-6.7" y="-4.2" width="13.3" height="8.3" fill="#fff" stroke="#111" stroke-width="0.8"/><text x="0" y="2.7" text-anchor="middle" font-size="7.6" font-weight="bold">NS</text></g>
<g transform="translate(333.2 379.6) rotate(0)"><rect x="-12.1" y="-4.2" width="24.3" height="8.3" fill="#fff" stroke="#111" stroke-width="0.8"/><text x="0" y="2.7" text-anchor="middle" font-size="7.6" font-weight="bold">DSMC</text></g>
<g font-family="'Liberation Serif',serif" fill="#111"><text x="131.3" y="523.2" font-weight="bold" font-size="15.8">(b)</text><text x="154.2" y="523.2" font-size="12.8">Density contours</text></g>
<!-- panel c -->
<clipPath id="ccu"><polygon points="51.8,639 51.8,599.5 126.4,621.6 345.8,563 345.8,639"/></clipPath>
<g clip-path="url(#ccu)">
<polygon points="51.8,639 51.8,599.5 126.4,621.6 345.8,563 345.8,639" fill="#ff4616"/>
<path d="M118.7 639C118.8 635.7 118.5 632.4 118.9 629.2C119.1 627.3 119.5 625.1 120.5 623.7C121.2 622.7 122.8 622.5 124 622.2C124.8 622 125.6 622.3 126.4 622.1C137.6 619.3 148.8 615.9 160 613C173.3 609.6 186.6 606.3 200 603.1C216.6 599 233.4 595.2 250 591.1C266.7 587 283.3 582.7 300 578.4C315.3 574.5 330.5 570.5 345.8 566.5L348.8 566.5L348.8 639L118.7 639Z" fill="#ffa41c"/>
<path d="M130.3 639C130.5 636.6 131.3 634.2 131 631.9C130.8 630.2 129.3 628.8 128.7 627.1C128.4 626.1 127.8 624.7 128.3 624C129.2 622.7 131.3 621.8 133 621.2C136.9 619.7 141 618.8 145 617.6C150 616.2 155 614.8 160 613.5C173.3 610.3 186.6 607.1 200 604.2C216.6 600.5 233.4 597.5 250 593.9C266.7 590.2 283.3 586.2 300 582.2C315.3 578.7 330.5 575 345.8 571.4L348.8 571.4L348.8 639L130.3 639Z" fill="#c8f029"/>
<path d="M138.5 639C139 636.7 140.1 634.3 139.9 632.1C139.8 630.4 138.5 628.7 137.5 627.2C136.7 626 134.7 625 134.5 623.9C134.4 623.2 135.6 622.1 136.5 621.7C140.8 619.8 145.5 618.5 150 617.1C153.3 616 156.6 615 160 614.2C173.3 611.1 186.6 608 200 605.3C216.6 601.9 233.4 599.5 250 596.1C266.7 592.8 283.3 588.8 300 585.1C315.3 581.8 330.5 578.5 345.8 575.2L348.8 575.2L348.8 639L138.5 639Z" fill="#6cf03c"/>
<path d="M147.5 639C147.9 636.7 149.1 634.2 148.8 632C148.6 630.3 147.2 628.6 146 627.2C144.9 625.9 142.3 625.1 142 623.9C141.8 623.1 143.5 621.8 144.5 621.2C146.8 619.8 149.5 618.9 152 617.9C154.6 616.9 157.3 615.9 160 615.3C173.3 612.1 186.6 609.1 200 606.6C216.6 603.5 233.4 601.4 250 598.4C266.7 595.4 283.4 592 300 588.6C315.3 585.5 330.5 582.2 345.8 579L348.8 579L348.8 639L147.5 639Z" fill="#58ee46"/>
<path d="M158.5 639C158.2 636.9 158.1 634.6 157.5 632.6C157 630.9 155.3 629.4 155 627.7C154.8 626.5 155.2 624.8 156 623.8C157.5 622.1 159.9 620.8 162 619.6C164.4 618.3 167 617 169.6 616.1C174.6 614.5 179.8 613.4 185 612.2C190 611.1 195 609.9 200 609C216.6 606.1 233.3 603.6 250 600.9C266.7 598.3 283.4 596.1 300 593.1C315.3 590.3 330.5 586.9 345.8 583.8L348.8 583.8L348.8 639L158.5 639Z" fill="#50eb50"/>
<path d="M180.5 639C179 636.4 177.5 633.9 176 631.3C175 629.5 172.9 627.5 172.9 625.9C172.9 624.8 174.8 623.7 176 623.1C178.4 621.8 181.2 621.2 183.8 620.3C189.2 618.6 194.6 616.8 200 615.3C206.6 613.4 213.3 611.6 220 610.2C229.9 608 240 606.2 250 604.5C266.6 601.6 283.4 599.5 300 596.6C315.3 593.9 330.5 590.6 345.8 587.6L348.8 587.6L348.8 639L180.5 639Z" fill="#5af06e"/>
<path d="M198.5 639C199.4 634.1 199 628.6 201.2 624.4C203 621 206.7 618 210.3 616.3C215.8 613.7 222.3 612.6 228.4 611.3C238.8 609.1 249.5 607.6 260 605.8C275 603.3 290 600.9 305 598.3C318.6 596 332.2 593.5 345.8 591.1L348.8 591.1L348.8 639L198.5 639Z" fill="#69f096"/>
<path d="M265.5 639C264.2 633.6 262 628.1 261.5 622.7C261.3 620.4 261.8 617.5 263.2 615.8C264.8 613.8 267.9 612.5 270.5 611.6C277.1 609.5 284.1 608.3 291 606.8C300.1 604.7 309.3 602.7 318.5 600.9C327.6 599 336.7 597.4 345.8 595.7L348.8 595.7L348.8 639L265.5 639Z" fill="#4bc3fa"/>
<path d="M118.7 639C118.8 635.7 118.5 632.4 118.9 629.2C119.1 627.3 119.5 625.1 120.5 623.7C121.2 622.7 122.8 622.5 124 622.2C124.8 622 125.6 622.3 126.4 622.1C137.6 619.3 148.8 615.9 160 613C173.3 609.6 186.6 606.3 200 603.1C216.6 599 233.4 595.2 250 591.1C266.7 587 283.3 582.7 300 578.4C315.3 574.5 330.5 570.5 345.8 566.5" fill="none" stroke="#0a0a0a" stroke-width="0.8"/>
<path d="M130.3 639C130.5 636.6 131.3 634.2 131 631.9C130.8 630.2 129.3 628.8 128.7 627.1C128.4 626.1 127.8 624.7 128.3 624C129.2 622.7 131.3 621.8 133 621.2C136.9 619.7 141 618.8 145 617.6C150 616.2 155 614.8 160 613.5C173.3 610.3 186.6 607.1 200 604.2C216.6 600.5 233.4 597.5 250 593.9C266.7 590.2 283.3 586.2 300 582.2C315.3 578.7 330.5 575 345.8 571.4" fill="none" stroke="#0a0a0a" stroke-width="0.8"/>
<path d="M138.5 639C139 636.7 140.1 634.3 139.9 632.1C139.8 630.4 138.5 628.7 137.5 627.2C136.7 626 134.7 625 134.5 623.9C134.4 623.2 135.6 622.1 136.5 621.7C140.8 619.8 145.5 618.5 150 617.1C153.3 616 156.6 615 160 614.2C173.3 611.1 186.6 608 200 605.3C216.6 601.9 233.4 599.5 250 596.1C266.7 592.8 283.3 588.8 300 585.1C315.3 581.8 330.5 578.5 345.8 575.2" fill="none" stroke="#0a0a0a" stroke-width="0.8"/>
<path d="M147.5 639C147.9 636.7 149.1 634.2 148.8 632C148.6 630.3 147.2 628.6 146 627.2C144.9 625.9 142.3 625.1 142 623.9C141.8 623.1 143.5 621.8 144.5 621.2C146.8 619.8 149.5 618.9 152 617.9C154.6 616.9 157.3 615.9 160 615.3C173.3 612.1 186.6 609.1 200 606.6C216.6 603.5 233.4 601.4 250 598.4C266.7 595.4 283.4 592 300 588.6C315.3 585.5 330.5 582.2 345.8 579" fill="none" stroke="#0a0a0a" stroke-width="0.8"/>
<path d="M158.5 639C158.2 636.9 158.1 634.6 157.5 632.6C157 630.9 155.3 629.4 155 627.7C154.8 626.5 155.2 624.8 156 623.8C157.5 622.1 159.9 620.8 162 619.6C164.4 618.3 167 617 169.6 616.1C174.6 614.5 179.8 613.4 185 612.2C190 611.1 195 609.9 200 609C216.6 606.1 233.3 603.6 250 600.9C266.7 598.3 283.4 596.1 300 593.1C315.3 590.3 330.5 586.9 345.8 583.8" fill="none" stroke="#0a0a0a" stroke-width="0.8"/>
<path d="M180.5 639C179 636.4 177.5 633.9 176 631.3C175 629.5 172.9 627.5 172.9 625.9C172.9 624.8 174.8 623.7 176 623.1C178.4 621.8 181.2 621.2 183.8 620.3C189.2 618.6 194.6 616.8 200 615.3C206.6 613.4 213.3 611.6 220 610.2C229.9 608 240 606.2 250 604.5C266.6 601.6 283.4 599.5 300 596.6C315.3 593.9 330.5 590.6 345.8 587.6" fill="none" stroke="#0a0a0a" stroke-width="0.8"/>
<path d="M198.5 639C199.4 634.1 199 628.6 201.2 624.4C203 621 206.7 618 210.3 616.3C215.8 613.7 222.3 612.6 228.4 611.3C238.8 609.1 249.5 607.6 260 605.8C275 603.3 290 600.9 305 598.3C318.6 596 332.2 593.5 345.8 591.1" fill="none" stroke="#0a0a0a" stroke-width="0.8"/>
<path d="M265.5 639C264.2 633.6 262 628.1 261.5 622.7C261.3 620.4 261.8 617.5 263.2 615.8C264.8 613.8 267.9 612.5 270.5 611.6C277.1 609.5 284.1 608.3 291 606.8C300.1 604.7 309.3 602.7 318.5 600.9C327.6 599 336.7 597.4 345.8 595.7" fill="none" stroke="#0a0a0a" stroke-width="0.8"/>
</g>
<clipPath id="ccl"><polygon points="51.8,639 51.8,678.5 126.4,656.4 345.8,715 345.8,639"/></clipPath>
<g clip-path="url(#ccl)">
<polygon points="51.8,639 51.8,678.5 126.4,656.4 345.8,715 345.8,639" fill="#ff4616"/>
<path d="M59 639C59.4 640.3 60.3 643.4 60.7 644.7C61.1 645.9 62.6 648.7 62.3 649.7C61.8 651.2 57.6 654 57.4 655.4C57.2 656.5 60.4 659.1 60.7 660.3C60.9 661.1 59.2 663.3 59.5 664C60 665.2 62.7 668 64 668.5C66.3 669.3 72.5 669.9 75 669.7C78.5 669.3 86.5 666.7 90 665.8C92.3 665.2 97.6 663.7 100 663.2C101.4 662.9 104.6 662.6 106 662.4L106 749L48.8 749L48.8 639Z" fill="#fa0f19"/>
<path d="M118.7 639C118.7 642.3 118.2 645.7 118.7 648.8C118.9 650.4 119.7 652.2 120.8 653.3C121.8 654.4 123.5 655 125 655.6C126.1 656 127.3 655.9 128.4 656.2C139 659.1 149.4 662.2 160 665C173.3 668.5 186.6 671.9 200 675.1C216.6 679.2 233.4 682.7 250 686.9C266.7 691.1 283.2 696.1 300 700.2C315.2 703.9 330.5 706.9 345.8 710.2L348.8 710.2L348.8 639L118.7 639Z" fill="#ffa41c"/>
<path d="M130.3 639C130 641.5 129.1 644.2 129.4 646.6C129.6 648.6 130.7 650.5 131.7 652.2C132.5 653.5 133.7 654.9 135 655.7C137.1 657.2 139.6 658.2 142 659.1C147.9 661.1 153.9 662.9 160 664.5C173.3 667.9 186.6 671.2 200 674.2C216.6 678 233.4 680.9 250 684.8C266.8 688.7 283.2 693.8 300 697.7C315.2 701.2 330.5 703.9 345.8 707L348.8 707L348.8 639L130.3 639Z" fill="#c8f029"/>
<path d="M138.5 639C137.9 641.3 136.7 643.6 136.8 645.9C136.9 647.7 138.2 649.6 139.2 651.3C139.9 652.6 140.8 653.8 142 654.7C144.4 656.6 147.2 658.2 150 659.6C153.2 661.2 156.5 662.9 160 663.8C173.2 667.3 186.6 670.3 200 673.1C216.6 676.6 233.4 678.9 250 682.6C266.8 686.3 283.2 691.5 300 695.1C315.1 698.4 330.5 700.5 345.8 703.2L348.8 703.2L348.8 639L138.5 639Z" fill="#6cf03c"/>
<path d="M147.5 639C147 641 145.9 643.2 146.1 645.1C146.3 647 147.6 648.9 148.8 650.5C150.9 653 153.3 655.3 156 657.2C158.7 659.2 161.8 660.8 165 662C169.8 663.9 175 665.2 180 666.6C186.6 668.4 193.2 670.4 200 671.6C216.6 674.6 233.5 676.1 250 679.3C266.8 682.6 283.3 687.5 300 691C315.2 694.1 330.5 696.5 345.8 699.3L348.8 699.3L348.8 639L147.5 639Z" fill="#58ee46"/>
<path d="M159 639C159.5 641.2 159.9 643.4 160.5 645.6C160.9 647.4 161.1 649.4 162 651C163.6 653.5 165.6 656.1 168 657.8C171.6 660.3 175.8 662.1 180 663.4C188.4 666 197.1 667.9 205.8 669.3C220.4 671.7 235.4 672.3 250 674.8C266.8 677.7 283.3 682 300 685.6C315.3 688.8 330.5 692.2 345.8 695.5L348.8 695.5L348.8 639L159 639Z" fill="#50eb50"/>
<path d="M180 639C182 644 182.6 650.2 186 654C189.6 658.1 195.7 660.8 201 662.9C207 665.3 213.6 666.4 220 667.4C229.9 669 240.1 669.1 250 670.8C266.8 673.6 283.3 677.6 300 681.1C315.3 684.3 330.5 687.5 345.8 690.7L348.8 690.7L348.8 639L180 639Z" fill="#5af06e"/>
<path d="M223.8 639C224.9 643.3 224.6 648.5 227 651.8C229.7 655.6 234.9 658 239.3 660.3C242.6 662 246.4 662.8 250 663.7C255.5 665.1 261.1 666 266.7 667.2C274.5 668.9 282.2 670.8 290 672.5C299.5 674.7 309 676.9 318.5 678.9C327.6 680.7 336.7 682.3 345.8 684L348.8 684L348.8 639L223.8 639Z" fill="#69f096"/>
<path d="M296.6 639C297.5 642.8 297.8 646.9 299.3 650.4C300.5 653.4 302.3 656.6 304.8 658.5C308.7 661.6 313.7 663.8 318.5 665.5C327.4 668.6 336.7 670.5 345.8 673L348.8 673L348.8 639L296.6 639Z" fill="#4bc3fa"/>
<path d="M59 639C59.4 640.3 60.3 643.4 60.7 644.7C61.1 645.9 62.6 648.7 62.3 649.7C61.8 651.2 57.6 654 57.4 655.4C57.2 656.5 60.4 659.1 60.7 660.3C60.9 661.1 59.2 663.3 59.5 664C60 665.2 62.7 668 64 668.5C66.3 669.3 72.5 669.9 75 669.7C78.5 669.3 86.5 666.7 90 665.8C92.3 665.2 97.6 663.7 100 663.2C101.4 662.9 104.6 662.6 106 662.4" fill="none" stroke="#0a0a0a" stroke-width="0.8"/>
<path d="M118.7 639C118.7 642.3 118.2 645.7 118.7 648.8C118.9 650.4 119.7 652.2 120.8 653.3C121.8 654.4 123.5 655 125 655.6C126.1 656 127.3 655.9 128.4 656.2C139 659.1 149.4 662.2 160 665C173.3 668.5 186.6 671.9 200 675.1C216.6 679.2 233.4 682.7 250 686.9C266.7 691.1 283.2 696.1 300 700.2C315.2 703.9 330.5 706.9 345.8 710.2" fill="none" stroke="#0a0a0a" stroke-width="0.8"/>
<path d="M130.3 639C130 641.5 129.1 644.2 129.4 646.6C129.6 648.6 130.7 650.5 131.7 652.2C132.5 653.5 133.7 654.9 135 655.7C137.1 657.2 139.6 658.2 142 659.1C147.9 661.1 153.9 662.9 160 664.5C173.3 667.9 186.6 671.2 200 674.2C216.6 678 233.4 680.9 250 684.8C266.8 688.7 283.2 693.8 300 697.7C315.2 701.2 330.5 703.9 345.8 707" fill="none" stroke="#0a0a0a" stroke-width="0.8"/>
<path d="M138.5 639C137.9 641.3 136.7 643.6 136.8 645.9C136.9 647.7 138.2 649.6 139.2 651.3C139.9 652.6 140.8 653.8 142 654.7C144.4 656.6 147.2 658.2 150 659.6C153.2 661.2 156.5 662.9 160 663.8C173.2 667.3 186.6 670.3 200 673.1C216.6 676.6 233.4 678.9 250 682.6C266.8 686.3 283.2 691.5 300 695.1C315.1 698.4 330.5 700.5 345.8 703.2" fill="none" stroke="#0a0a0a" stroke-width="0.8"/>
<path d="M147.5 639C147 641 145.9 643.2 146.1 645.1C146.3 647 147.6 648.9 148.8 650.5C150.9 653 153.3 655.3 156 657.2C158.7 659.2 161.8 660.8 165 662C169.8 663.9 175 665.2 180 666.6C186.6 668.4 193.2 670.4 200 671.6C216.6 674.6 233.5 676.1 250 679.3C266.8 682.6 283.3 687.5 300 691C315.2 694.1 330.5 696.5 345.8 699.3" fill="none" stroke="#0a0a0a" stroke-width="0.8"/>
<path d="M159 639C159.5 641.2 159.9 643.4 160.5 645.6C160.9 647.4 161.1 649.4 162 651C163.6 653.5 165.6 656.1 168 657.8C171.6 660.3 175.8 662.1 180 663.4C188.4 666 197.1 667.9 205.8 669.3C220.4 671.7 235.4 672.3 250 674.8C266.8 677.7 283.3 682 300 685.6C315.3 688.8 330.5 692.2 345.8 695.5" fill="none" stroke="#0a0a0a" stroke-width="0.8"/>
<path d="M180 639C182 644 182.6 650.2 186 654C189.6 658.1 195.7 660.8 201 662.9C207 665.3 213.6 666.4 220 667.4C229.9 669 240.1 669.1 250 670.8C266.8 673.6 283.3 677.6 300 681.1C315.3 684.3 330.5 687.5 345.8 690.7" fill="none" stroke="#0a0a0a" stroke-width="0.8"/>
<path d="M223.8 639C224.9 643.3 224.6 648.5 227 651.8C229.7 655.6 234.9 658 239.3 660.3C242.6 662 246.4 662.8 250 663.7C255.5 665.1 261.1 666 266.7 667.2C274.5 668.9 282.2 670.8 290 672.5C299.5 674.7 309 676.9 318.5 678.9C327.6 680.7 336.7 682.3 345.8 684" fill="none" stroke="#0a0a0a" stroke-width="0.8"/>
<path d="M296.6 639C297.5 642.8 297.8 646.9 299.3 650.4C300.5 653.4 302.3 656.6 304.8 658.5C308.7 661.6 313.7 663.8 318.5 665.5C327.4 668.6 336.7 670.5 345.8 673" fill="none" stroke="#0a0a0a" stroke-width="0.8"/>
</g>
<path d="M51.8 639.4H345.8" stroke="#2a1410" stroke-width="1"/>
<path d="M51.8 599.5L126.4 621.6M51.8 678.5L126.4 656.4" fill="none" stroke="#e81808" stroke-width="0.9" stroke-linecap="round"/>
<path d="M126.4 621.6L345.8 563M126.4 656.4L345.8 715" fill="none" stroke="#e81808" stroke-width="0.9" stroke-linecap="round"/>
<g stroke="#3c3c44" stroke-width="1.4" fill="none">
<path d="M52.1 536V743.6H346.3"/>
<path d="M51.8 741.6h3M51.8 730.2h3M51.8 718.8h3M51.8 707.4h3M51.8 696h5M51.8 684.6h3M51.8 673.2h3M51.8 661.8h3M51.8 650.4h3M51.8 639h5M51.8 627.6h3M51.8 616.2h3M51.8 604.8h3M51.8 593.4h3M51.8 582h5M51.8 570.6h3M51.8 559.2h3M51.8 547.8h3M51.8 536.4h3M51.8 743.6v-5M66.5 743.6v-3M95.9 743.6v-3M110.6 743.6v-3M125.3 743.6v-5M140 743.6v-3M154.7 743.6v-3M169.4 743.6v-3M184.1 743.6v-3M198.8 743.6v-5M213.5 743.6v-3M228.2 743.6v-3M242.9 743.6v-3M257.6 743.6v-3M272.3 743.6v-5M287 743.6v-3M301.7 743.6v-3M316.4 743.6v-3M331.1 743.6v-3M345.8 743.6v-5" stroke-width="1.05"/>
</g>
<g font-size="9.9" fill="#0c0c0c" letter-spacing="0.2" stroke="#0c0c0c" stroke-width="0.12">
<text x="48.3" y="585.4" text-anchor="end">5E-05</text>
<text x="48.3" y="642.4" text-anchor="end">0</text>
<text x="48.3" y="699.4" text-anchor="end">-5E-05</text>
<text x="51.5" y="754.6" text-anchor="middle">0</text>
<text x="126.5" y="754.6" text-anchor="middle">5E-05</text>
<text x="200" y="754.6" text-anchor="middle">0.0001</text>
<text x="273.5" y="754.6" text-anchor="middle">0.00015</text>
<text x="347" y="754.6" text-anchor="middle">0.0002</text>
</g>
<text x="199.6" y="771.6" text-anchor="middle" font-size="12.5" font-weight="bold" fill="#111" stroke="#111" stroke-width="0.3">X (m)</text>
<text transform="translate(10.6 636.8) rotate(-90)" text-anchor="middle" font-size="12.5" font-weight="bold" fill="#111" stroke="#111" stroke-width="0.3">Y (m)</text>
<rect x="138.6" y="690.2" width="4.6" height="10.6" fill="#0c28eb"/>
<rect x="142.9" y="690.2" width="7" height="10.6" fill="#1238fa"/>
<rect x="149.6" y="690.2" width="7" height="10.6" fill="#4bc3fa"/>
<rect x="156.2" y="690.2" width="7" height="10.6" fill="#69f096"/>
<rect x="162.9" y="690.2" width="6.9" height="10.6" fill="#5af06e"/>
<rect x="169.5" y="690.2" width="7" height="10.6" fill="#50eb50"/>
<rect x="176.2" y="690.2" width="7" height="10.6" fill="#58ee46"/>
<rect x="182.8" y="690.2" width="7" height="10.6" fill="#6cf03c"/>
<rect x="189.5" y="690.2" width="7" height="10.6" fill="#c8f029"/>
<rect x="196.1" y="690.2" width="6.9" height="10.6" fill="#ffaa19"/>
<rect x="202.8" y="690.2" width="7" height="10.6" fill="#ff4616"/>
<rect x="209.4" y="690.2" width="4.3" height="10.6" fill="#fa0f19"/>
<path d="M142.9 690.2v10.6M156.2 690.2v10.6M169.5 690.2v10.6M182.8 690.2v10.6M196.1 690.2v10.6M209.4 690.2v10.6" stroke="#111" stroke-width="0.7"/>
<rect x="138.6" y="690.2" width="74.8" height="10.6" fill="none" stroke="#111" stroke-width="0.9"/>
<g font-size="6.7" fill="#1a1a1a">
<text x="131.2" y="708.1" text-anchor="end">T (K):</text>
<text x="142.4" y="708.1" text-anchor="middle">100</text>
<text x="155.8" y="708.1" text-anchor="middle">140</text>
<text x="169.3" y="708.1" text-anchor="middle">180</text>
<text x="183" y="708.1" text-anchor="middle">220</text>
<text x="196.6" y="708.1" text-anchor="middle">260</text>
<text x="210.1" y="708.1" text-anchor="middle">300</text>
</g>
<g transform="translate(116.5 634.5) rotate(-90)"><rect x="-7" y="-3.7" width="14.1" height="7.3" fill="#fff"/><text x="0" y="2.7" text-anchor="middle" font-size="7.6">280</text></g>
<g transform="translate(121 623) rotate(-75)"><rect x="-7" y="-3.7" width="14.1" height="7.3" fill="#fff"/><text x="0" y="2.7" text-anchor="middle" font-size="7.6">260</text></g>
<g transform="translate(131.7 622.2) rotate(-45)"><rect x="-7" y="-3.7" width="14.1" height="7.3" fill="#fff"/><text x="0" y="2.7" text-anchor="middle" font-size="7.6">240</text></g>
<g transform="translate(171 616.4) rotate(-20)"><rect x="-7" y="-3.7" width="14.1" height="7.3" fill="#fff"/><text x="0" y="2.7" text-anchor="middle" font-size="7.6">220</text></g>
<g transform="translate(210.3 606.9) rotate(-15)"><rect x="-7" y="-3.7" width="14.1" height="7.3" fill="#fff"/><text x="0" y="2.7" text-anchor="middle" font-size="7.6">220</text></g>
<g transform="translate(232.9 602.2) rotate(-15)"><rect x="-7" y="-3.7" width="14.1" height="7.3" fill="#fff"/><text x="0" y="2.7" text-anchor="middle" font-size="7.6">220</text></g>
<g transform="translate(238.9 593.8) rotate(-15)"><rect x="-7" y="-3.7" width="14.1" height="7.3" fill="#fff"/><text x="0" y="2.7" text-anchor="middle" font-size="7.6">260</text></g>
<g transform="translate(202.7 626.3) rotate(-65)"><rect x="-7" y="-3.7" width="14.1" height="7.3" fill="#fff"/><text x="0" y="2.7" text-anchor="middle" font-size="7.6">160</text></g>
<g transform="translate(205.8 667.9) rotate(15)"><rect x="-7" y="-3.7" width="14.1" height="7.3" fill="#fff"/><text x="0" y="2.7" text-anchor="middle" font-size="7.6">220</text></g>
<g transform="translate(198.2 674) rotate(15)"><rect x="-7" y="-3.7" width="14.1" height="7.3" fill="#fff"/><text x="0" y="2.7" text-anchor="middle" font-size="7.6">260</text></g>
<g transform="translate(320.6 573) rotate(-15)"><rect x="-7" y="-3.7" width="14.1" height="7.3" fill="#fff"/><text x="0" y="2.7" text-anchor="middle" font-size="7.6">280</text></g>
<g transform="translate(305 596.4) rotate(-10)"><rect x="-7" y="-3.7" width="14.1" height="7.3" fill="#fff"/><text x="0" y="2.7" text-anchor="middle" font-size="7.6">160</text></g>
<g transform="translate(321.2 594.3) rotate(-10)"><rect x="-7" y="-3.7" width="14.1" height="7.3" fill="#fff"/><text x="0" y="2.7" text-anchor="middle" font-size="7.6">160</text></g>
<g transform="translate(267 667.5) rotate(12)"><rect x="-7" y="-3.7" width="14.1" height="7.3" fill="#fff"/><text x="0" y="2.7" text-anchor="middle" font-size="7.6">160</text></g>
<g transform="translate(330.5 631.1) rotate(0)"><rect x="-6.7" y="-4.2" width="13.3" height="8.3" fill="#fff" stroke="#111" stroke-width="0.8"/><text x="0" y="2.7" text-anchor="middle" font-size="7.6" font-weight="bold">NS</text></g>
<g transform="translate(331.3 644.9) rotate(0)"><rect x="-12.1" y="-4.2" width="24.3" height="8.3" fill="#fff" stroke="#111" stroke-width="0.8"/><text x="0" y="2.7" text-anchor="middle" font-size="7.6" font-weight="bold">DSMC</text></g>
<clipPath id="cxr"><rect x="300" y="540" width="46" height="60"/></clipPath><g clip-path="url(#cxr)"><g transform="translate(347.5 565.3) rotate(-15)"><rect x="-7" y="-3.7" width="14.1" height="7.3" fill="#fff"/><text x="0" y="2.7" text-anchor="middle" font-size="7.6">280</text></g></g>
<g font-family="'Liberation Serif',serif" fill="#111"><text x="117.7" y="788.9" font-weight="bold" font-size="15.8">(c)</text><text x="140.5" y="788.9" font-size="12.8">Temperature Contours</text></g>
<!-- panel d -->
<clipPath id="cdu"><polygon points="51.8,907.1 51.8,867.6 126.4,889.7 345.8,831.1 345.8,907.1"/></clipPath>
<g clip-path="url(#cdu)">
<polygon points="51.8,907.1 51.8,867.6 126.4,889.7 345.8,831.1 345.8,907.1" fill="#1c54f0"/>
<path d="M51.8 894.7C54.5 892.5 57.1 890.1 60 888.1C63.7 885.5 67.7 883.2 71.5 880.8L51.8 871.1Z" fill="#0c2ce6"/>
<path d="M51.8 894.7C54 892.9 57.7 889.7 60 888.1C62.9 886.1 68.1 882.2 71.3 881C73.4 880.2 77.7 880.7 80 880.8C82.4 880.9 86.5 881.3 88.8 881.7C93.2 882.5 100.7 884.6 105 885.6C108.3 886.3 114 887.3 117.3 888C119.7 888.5 124 890.6 126.4 890.2C135.4 888.9 151 883.9 160 881.6C170.7 878.9 189.3 874.2 200 871.5C213.3 868.1 236.7 862.1 250 858.7C263.3 855.3 286.7 849.6 300 846.2C312.2 843.1 333.6 837.6 345.8 834.5L348.8 834.5L348.8 907.1L51.8 907.1Z" fill="#4baafa"/>
<path d="M94.8 907.1C95.3 903.7 95.2 900.2 96.2 897C97 894.6 98.3 892 100 890.2C101.5 888.6 103.7 887 105.8 886.7C108.7 886.2 112 887.2 115 887.8C118.8 888.5 122.6 890.9 126.4 890.5C137.6 889.1 148.8 885.1 160 882.3C173.3 879 186.7 875.8 200 872.5C216.7 868.3 233.3 864.1 250 860C266.7 855.9 283.3 851.9 300 847.8C315.3 844 330.5 840.2 345.8 836.4L348.8 836.4L348.8 907.1L94.8 907.1Z" fill="#6ef0a5"/>
<path d="M112.3 907.1C112.7 902.9 112.2 898.2 113.5 894.4C114.2 892.3 116.3 889.8 118.3 889.3C120.6 888.6 123.7 891.1 126.4 890.7C137.6 889 148.8 885.6 160 883C173.3 879.8 186.7 876.6 200 873.4C216.7 869.3 233.3 865.2 250 861.2C266.7 857.2 283.3 853.4 300 849.4C315.3 845.7 330.5 842 345.8 838.3L348.8 838.3L348.8 907.1L112.3 907.1Z" fill="#5af078"/>
<path d="M121.6 907.1C121.5 903.9 121.3 900.8 121.3 897.6C121.3 895.5 120.7 892.4 121.8 891.2C122.7 890.1 125.6 891.2 127.4 890.8C138.3 888.7 149.1 886.1 160 883.6C173.3 880.6 186.7 877.6 200 874.5C216.7 870.6 233.3 866.4 250 862.5C266.6 858.6 283.4 855.1 300 851.3C315.3 847.8 330.5 844.2 345.8 840.6L348.8 840.6L348.8 907.1L121.6 907.1Z" fill="#50ec50"/>
<path d="M126.2 907.1C126.1 904.2 125.9 901.2 125.8 898.3C125.7 896.5 124.9 894.3 125.5 893C126 892 127.7 891.5 129 891.2C139.2 888.6 149.7 886.7 160 884.4C173.3 881.5 186.7 878.6 200 875.6C216.7 871.8 233.3 867.7 250 864C266.6 860.3 283.4 856.9 300 853.2C315.3 849.8 330.5 846.3 345.8 842.9L348.8 842.9L348.8 907.1L126.2 907.1Z" fill="#55ee46"/>
<path d="M130.6 907.1C130.5 904.6 130.5 902.2 130.2 899.7C130 897.8 128.5 895.6 129 894.1C129.4 892.8 131.4 891.6 133 891.2C141.8 888.7 151 887.2 160 885.2C173.3 882.3 186.7 879.6 200 876.7C216.7 873.1 233.3 869.1 250 865.5C266.6 861.9 283.3 858.7 300 855.1C315.3 851.9 330.5 848.5 345.8 845.2L348.8 845.2L348.8 907.1L130.6 907.1Z" fill="#64f03c"/>
<path d="M148.7 907.1C148 905.6 147.7 903.7 146.5 902.5C145 901.1 142.5 900.6 140.7 899.3C139 898.1 137.5 896.6 136 895.1C135.5 894.6 134.2 893.8 134.5 893.4C135.2 892.5 137.4 891.6 139 891.1C145.9 889.2 153 887.7 160 886.3C173.3 883.5 186.7 881.2 200 878.4C216.7 874.9 233.3 870.8 250 867.3C266.6 863.7 283.3 860.5 300 857C315.3 853.9 330.5 850.6 345.8 847.4L348.8 847.4L348.8 907.1L148.7 907.1Z" fill="#aaf02d"/>
<path d="M153.1 907.1C153.6 904.4 153.5 901.5 154.5 899.1C155.3 897.2 156.9 895.3 158.6 894.1C161.8 891.9 165.6 890.5 169.2 889.1C174.4 887.1 179.7 885.5 185 884C190 882.5 195 881.3 200 880C206.7 878.4 213.3 876.6 220 875.1C230 872.9 240 871 250 869C266.7 865.7 283.3 862.5 300 859.3C315.3 856.3 330.5 853.4 345.8 850.5L348.8 850.5L348.8 907.1L153.1 907.1Z" fill="#e8f01e"/>
<path d="M166 907.1C166.7 903.8 166.9 900.3 168 897.1C168.8 894.9 169.7 892.2 171.5 890.9C174.7 888.7 179.2 887.8 183.2 886.6C187.1 885.4 191.1 884.5 195 883.5C203.3 881.5 211.6 879.2 220 877.4C230 875.3 240 873.4 250 871.6C266.7 868.4 283.3 865.5 300 862.5C315.3 859.7 330.5 857 345.8 854.3L348.8 854.3L348.8 907.1L166 907.1Z" fill="#ffa51c"/>
<path d="M201 907.1C201.7 905.6 202.3 904.1 203 902.6C203.8 900.9 204.4 899.1 205.4 897.5C207.2 894.6 209 891.4 211.4 889.1C213.7 886.7 216.7 884.8 219.7 883.4C223.1 881.8 227 881.2 230.6 880.1C235.4 878.8 240.1 877.2 245 876.2C254.6 874.1 264.3 872.6 274 870.7C279.3 869.7 284.6 868.2 290 867.4C308.6 864.4 327.2 861.9 345.8 859.2L348.8 859.2L348.8 907.1L201 907.1Z" fill="#ff4616"/>
<path d="M300.2 907.1C301 901.5 300.7 895.6 302.5 890.3C304.2 885.6 306.9 880.3 310.7 877.1C314.6 873.8 320.3 872 325.5 870.7C332 869 339 868.9 345.8 868L348.8 868L348.8 907.1L300.2 907.1Z" fill="#fa1419"/>
<path d="M51.8 894.7C54 892.9 57.7 889.7 60 888.1C62.9 886.1 68.1 882.2 71.3 881C73.4 880.2 77.7 880.7 80 880.8C82.4 880.9 86.5 881.3 88.8 881.7C93.2 882.5 100.7 884.6 105 885.6C108.3 886.3 114 887.3 117.3 888C119.7 888.5 124 890.6 126.4 890.2C135.4 888.9 151 883.9 160 881.6C170.7 878.9 189.3 874.2 200 871.5C213.3 868.1 236.7 862.1 250 858.7C263.3 855.3 286.7 849.6 300 846.2C312.2 843.1 333.6 837.6 345.8 834.5" fill="none" stroke="#0a0a0a" stroke-width="0.8"/>
<path d="M94.8 907.1C95.3 903.7 95.2 900.2 96.2 897C97 894.6 98.3 892 100 890.2C101.5 888.6 103.7 887 105.8 886.7C108.7 886.2 112 887.2 115 887.8C118.8 888.5 122.6 890.9 126.4 890.5C137.6 889.1 148.8 885.1 160 882.3C173.3 879 186.7 875.8 200 872.5C216.7 868.3 233.3 864.1 250 860C266.7 855.9 283.3 851.9 300 847.8C315.3 844 330.5 840.2 345.8 836.4" fill="none" stroke="#0a0a0a" stroke-width="0.8"/>
<path d="M112.3 907.1C112.7 902.9 112.2 898.2 113.5 894.4C114.2 892.3 116.3 889.8 118.3 889.3C120.6 888.6 123.7 891.1 126.4 890.7C137.6 889 148.8 885.6 160 883C173.3 879.8 186.7 876.6 200 873.4C216.7 869.3 233.3 865.2 250 861.2C266.7 857.2 283.3 853.4 300 849.4C315.3 845.7 330.5 842 345.8 838.3" fill="none" stroke="#0a0a0a" stroke-width="0.8"/>
<path d="M121.6 907.1C121.5 903.9 121.3 900.8 121.3 897.6C121.3 895.5 120.7 892.4 121.8 891.2C122.7 890.1 125.6 891.2 127.4 890.8C138.3 888.7 149.1 886.1 160 883.6C173.3 880.6 186.7 877.6 200 874.5C216.7 870.6 233.3 866.4 250 862.5C266.6 858.6 283.4 855.1 300 851.3C315.3 847.8 330.5 844.2 345.8 840.6" fill="none" stroke="#0a0a0a" stroke-width="0.8"/>
<path d="M126.2 907.1C126.1 904.2 125.9 901.2 125.8 898.3C125.7 896.5 124.9 894.3 125.5 893C126 892 127.7 891.5 129 891.2C139.2 888.6 149.7 886.7 160 884.4C173.3 881.5 186.7 878.6 200 875.6C216.7 871.8 233.3 867.7 250 864C266.6 860.3 283.4 856.9 300 853.2C315.3 849.8 330.5 846.3 345.8 842.9" fill="none" stroke="#0a0a0a" stroke-width="0.8"/>
<path d="M130.6 907.1C130.5 904.6 130.5 902.2 130.2 899.7C130 897.8 128.5 895.6 129 894.1C129.4 892.8 131.4 891.6 133 891.2C141.8 888.7 151 887.2 160 885.2C173.3 882.3 186.7 879.6 200 876.7C216.7 873.1 233.3 869.1 250 865.5C266.6 861.9 283.3 858.7 300 855.1C315.3 851.9 330.5 848.5 345.8 845.2" fill="none" stroke="#0a0a0a" stroke-width="0.8"/>
<path d="M148.7 907.1C148 905.6 147.7 903.7 146.5 902.5C145 901.1 142.5 900.6 140.7 899.3C139 898.1 137.5 896.6 136 895.1C135.5 894.6 134.2 893.8 134.5 893.4C135.2 892.5 137.4 891.6 139 891.1C145.9 889.2 153 887.7 160 886.3C173.3 883.5 186.7 881.2 200 878.4C216.7 874.9 233.3 870.8 250 867.3C266.6 863.7 283.3 860.5 300 857C315.3 853.9 330.5 850.6 345.8 847.4" fill="none" stroke="#0a0a0a" stroke-width="0.8"/>
<path d="M153.1 907.1C153.6 904.4 153.5 901.5 154.5 899.1C155.3 897.2 156.9 895.3 158.6 894.1C161.8 891.9 165.6 890.5 169.2 889.1C174.4 887.1 179.7 885.5 185 884C190 882.5 195 881.3 200 880C206.7 878.4 213.3 876.6 220 875.1C230 872.9 240 871 250 869C266.7 865.7 283.3 862.5 300 859.3C315.3 856.3 330.5 853.4 345.8 850.5" fill="none" stroke="#0a0a0a" stroke-width="0.8"/>
<path d="M166 907.1C166.7 903.8 166.9 900.3 168 897.1C168.8 894.9 169.7 892.2 171.5 890.9C174.7 888.7 179.2 887.8 183.2 886.6C187.1 885.4 191.1 884.5 195 883.5C203.3 881.5 211.6 879.2 220 877.4C230 875.3 240 873.4 250 871.6C266.7 868.4 283.3 865.5 300 862.5C315.3 859.7 330.5 857 345.8 854.3" fill="none" stroke="#0a0a0a" stroke-width="0.8"/>
<path d="M201 907.1C201.7 905.6 202.3 904.1 203 902.6C203.8 900.9 204.4 899.1 205.4 897.5C207.2 894.6 209 891.4 211.4 889.1C213.7 886.7 216.7 884.8 219.7 883.4C223.1 881.8 227 881.2 230.6 880.1C235.4 878.8 240.1 877.2 245 876.2C254.6 874.1 264.3 872.6 274 870.7C279.3 869.7 284.6 868.2 290 867.4C308.6 864.4 327.2 861.9 345.8 859.2" fill="none" stroke="#0a0a0a" stroke-width="0.8"/>
<path d="M300.2 907.1C301 901.5 300.7 895.6 302.5 890.3C304.2 885.6 306.9 880.3 310.7 877.1C314.6 873.8 320.3 872 325.5 870.7C332 869 339 868.9 345.8 868" fill="none" stroke="#0a0a0a" stroke-width="0.8"/>
<path d="M132 891.4C141.3 889.6 150.7 887.8 160 885.9C173.3 883.2 186.7 880.7 200 877.8C216.7 874.2 233.3 870.2 250 866.6C266.6 863 283.3 859.7 300 856.2C315.3 852.9 330.5 849.6 345.8 846.4" fill="none" stroke="#021a10" stroke-width="0.55" stroke-opacity="0.75"/>
<path d="M132 891C141.3 889 150.7 887.1 160 885.2C173.3 882.4 186.7 879.7 200 876.7C216.7 873 233.3 868.9 250 865.2C266.6 861.5 283.3 858 300 854.4C315.3 851 330.5 847.6 345.8 844.3" fill="none" stroke="#021a10" stroke-width="0.55" stroke-opacity="0.75"/>
<path d="M132 890.5C141.3 888.5 150.7 886.5 160 884.4C173.3 881.5 186.7 878.7 200 875.6C216.7 871.8 233.3 867.6 250 863.8C266.6 859.9 283.3 856.4 300 852.6C315.3 849.2 330.5 845.6 345.8 842.1" fill="none" stroke="#021a10" stroke-width="0.55" stroke-opacity="0.75"/>
<path d="M132 890.1C141.3 888 150.7 885.8 160 883.7C173.3 880.6 186.7 877.6 200 874.5C216.7 870.5 233.3 866.3 250 862.4C266.6 858.4 283.3 854.7 300 850.8C315.3 847.3 330.5 843.6 345.8 840" fill="none" stroke="#021a10" stroke-width="0.55" stroke-opacity="0.75"/>
<path d="M132 889.7C141.3 887.4 150.7 885.2 160 883C173.3 879.8 186.7 876.6 200 873.4C216.7 869.3 233.3 865 250 861C266.6 856.9 283.3 853.1 300 849C315.3 845.4 330.5 841.6 345.8 837.9" fill="none" stroke="#021a10" stroke-width="0.55" stroke-opacity="0.75"/>
<path d="M132 889.2C141.3 886.9 150.7 884.6 160 882.2C173.3 878.9 186.7 875.6 200 872.3C216.7 868.1 233.3 863.7 250 859.6C266.6 855.4 283.3 851.4 300 847.3C315.3 843.5 330.5 839.6 345.8 835.8" fill="none" stroke="#021a10" stroke-width="0.55" stroke-opacity="0.75"/>
<path d="M132 888.8C141.3 886.4 150.7 883.9 160 881.5C173.3 878 186.7 874.6 200 871.2C216.7 866.8 233.3 862.4 250 858.1C266.7 853.9 283.3 849.8 300 845.5C315.3 841.6 330.5 837.6 345.8 833.7" fill="none" stroke="#021a10" stroke-width="0.55" stroke-opacity="0.75"/>
</g>
<clipPath id="cdl"><polygon points="51.8,907.1 51.8,946.6 126.4,924.5 345.8,983.1 345.8,907.1"/></clipPath>
<g clip-path="url(#cdl)">
<polygon points="51.8,907.1 51.8,946.6 126.4,924.5 345.8,983.1 345.8,907.1" fill="#0c2ce6"/>
<path d="M51.8 920C55.9 920.6 63 921.3 67 922.2C70.5 923 76.4 926 80 926.6C85.2 927.5 94.5 927.6 99.8 927.7C103.1 927.8 108.8 927.9 112 927.5C115.9 926.9 122.6 923.5 126.4 923.9C135.4 924.8 151 930.2 160 932.4C170.7 935.1 189.3 939.8 200 942.5C213.3 945.9 236.7 951.7 250 955.1C263.3 958.5 286.7 964.5 300 968C312.2 971.2 333.6 976.8 345.8 980.1L348.8 980.1L348.8 907.1L51.8 907.1Z" fill="#4baafa"/>
<path d="M51.8 913.4C57.2 913.4 66.7 913 72 913.5C75.4 913.8 81.4 915.5 84.7 916.4C88.6 917.5 95.3 919.6 99.1 920.9C102.7 922.1 108.9 924.8 112.5 925.5C114.4 925.9 118 925.1 120 924.9C121.7 924.6 124.7 923.4 126.4 923.6C135.4 925 151 929.1 160 931.1C170.7 933.5 189.3 937.7 200 940.1C213.3 943.1 236.7 948.3 250 951.5C263.4 954.7 286.7 960.6 300 964.2C312.3 967.4 333.6 973.6 345.8 977L348.8 977L348.8 907.1L51.8 907.1Z" fill="#6ef0a5"/>
<path d="M101 907.1C102 908.4 102.9 909.8 104 911.1C105.5 912.8 107 914.6 108.7 916.1C110.3 917.6 112.3 918.7 114 920.1C115.5 921.2 116.7 923.1 118.3 923.7C120 924.2 122.1 923.6 124 923.6C124.8 923.6 125.6 923.2 126.4 923.4C137.6 925.5 148.8 928 160 930.3C173.3 933.1 186.7 935.9 200 938.8C216.7 942.4 233.4 945.9 250 949.7C266.7 953.6 283.4 957.7 300 961.9C315.3 965.9 330.5 970.2 345.8 974.4L348.8 974.4L348.8 907.1L101 907.1Z" fill="#5af078"/>
<path d="M121.6 907.1C121.7 910.2 121.7 913.3 121.9 916.5C122 918.6 121.4 921.6 122.4 922.9C123.2 923.9 125.8 923.1 127.4 923.4C138.3 925.3 149.1 927.4 160 929.5C173.3 932.1 186.7 934.8 200 937.5C216.7 940.9 233.4 944.2 250 947.9C266.7 951.6 283.4 955.6 300 959.7C315.3 963.5 330.5 967.7 345.8 971.7L348.8 971.7L348.8 907.1L121.6 907.1Z" fill="#50ec50"/>
<path d="M126.2 907.1C126.2 910 126.3 912.9 126.3 915.8C126.3 917.6 125.5 919.7 126 921.1C126.4 922.1 127.9 922.8 129 923C139.2 925.3 149.7 926.8 160 928.7C173.3 931.2 186.7 933.6 200 936.2C216.7 939.4 233.4 942.6 250 946.2C266.7 949.7 283.4 953.5 300 957.5C315.3 961.1 330.5 965.2 345.8 969L348.8 969L348.8 907.1L126.2 907.1Z" fill="#55ee46"/>
<path d="M130.6 907.1C130.5 909.6 130.6 912 130.4 914.5C130.2 916.4 128.8 918.6 129.3 920.2C129.7 921.4 131.5 922.4 133 922.8C141.8 925 151 926.3 160 927.9C173.3 930.3 186.7 932.5 200 934.9C216.7 937.9 233.4 941 250 944.4C266.7 947.8 283.4 951.4 300 955.2C315.3 958.8 330.5 962.8 345.8 966.6L348.8 966.6L348.8 907.1L130.6 907.1Z" fill="#64f03c"/>
<path d="M148.7 907.1C148.1 908.6 148 910.4 147 911.7C145.7 913.3 143.7 914.4 142 915.7C140.4 917 138.6 918 137 919.2C136.4 919.7 135.2 920.6 135.5 921C136.2 921.9 138.4 922.7 140 923.1C146.6 924.7 153.3 926 160 927.1C173.3 929.5 186.7 931.3 200 933.6C216.7 936.4 233.4 939.2 250 942.4C266.7 945.6 283.4 949.2 300 953C315.3 956.5 330.5 960.4 345.8 964.1L348.8 964.1L348.8 907.1L148.7 907.1Z" fill="#aaf02d"/>
<path d="M153.1 907.1C153.6 909.6 153.4 912.4 154.5 914.6C155.4 916.4 157.2 918 159 919.1C162.4 921.1 166.2 922.6 170 923.9C174.9 925.7 179.9 927.3 185 928.6C189.9 929.8 195 930.8 200 931.6C210 933.1 220 934 230 935.5C238.4 936.7 246.7 937.8 255 939.5C265.1 941.6 275 944.5 285 946.8C305.2 951.5 325.5 955.8 345.8 960.3L348.8 960.3L348.8 907.1L153.1 907.1Z" fill="#e8f01e"/>
<path d="M167.8 907.1C168.1 909.5 167.6 912.3 168.6 914.3C169.6 916.3 172 917.9 174 919.1C176.8 920.9 180 922.3 183.2 923.4C188.7 925.2 194.3 926.8 200 927.9C209.9 929.7 220 930.5 230 932.1C238.4 933.4 246.7 934.9 255 936.6C265 938.7 274.9 941.5 285 943.6C305.2 947.7 325.5 951.4 345.8 955.4L348.8 955.4L348.8 907.1L167.8 907.1Z" fill="#ffa51c"/>
<path d="M208.8 907.1C210.8 909.8 212.4 913 214.8 915.3C216.8 917.3 219.5 918.7 222 920C224.5 921.2 227.3 922 230 922.9C238.3 925.5 246.6 928.2 255 930.4C264.9 932.9 275 935 285 937C305.2 941.1 325.5 944.8 345.8 948.7L348.8 948.7L348.8 907.1L208.8 907.1Z" fill="#ff4616"/>
<path d="M310.7 907.1C312.9 910.9 314.4 915.3 317.3 918.5C321 922.4 325.6 926 330.5 928.3C335.1 930.6 340.7 930.9 345.8 932.2L348.8 932.2L348.8 907.1L310.7 907.1Z" fill="#fa1419"/>
<path d="M51.8 920C55.9 920.6 63 921.3 67 922.2C70.5 923 76.4 926 80 926.6C85.2 927.5 94.5 927.6 99.8 927.7C103.1 927.8 108.8 927.9 112 927.5C115.9 926.9 122.6 923.5 126.4 923.9C135.4 924.8 151 930.2 160 932.4C170.7 935.1 189.3 939.8 200 942.5C213.3 945.9 236.7 951.7 250 955.1C263.3 958.5 286.7 964.5 300 968C312.2 971.2 333.6 976.8 345.8 980.1" fill="none" stroke="#0a0a0a" stroke-width="0.8"/>
<path d="M51.8 913.4C57.2 913.4 66.7 913 72 913.5C75.4 913.8 81.4 915.5 84.7 916.4C88.6 917.5 95.3 919.6 99.1 920.9C102.7 922.1 108.9 924.8 112.5 925.5C114.4 925.9 118 925.1 120 924.9C121.7 924.6 124.7 923.4 126.4 923.6C135.4 925 151 929.1 160 931.1C170.7 933.5 189.3 937.7 200 940.1C213.3 943.1 236.7 948.3 250 951.5C263.4 954.7 286.7 960.6 300 964.2C312.3 967.4 333.6 973.6 345.8 977" fill="none" stroke="#0a0a0a" stroke-width="0.8"/>
<path d="M58 914.4C60 914.4 62 914.5 64 914.5C65.8 914.5 67.7 914.4 69.5 914.4" fill="none" stroke="#0a0a0a" stroke-width="0.8"/>
<path d="M101 907.1C102 908.4 102.9 909.8 104 911.1C105.5 912.8 107 914.6 108.7 916.1C110.3 917.6 112.3 918.7 114 920.1C115.5 921.2 116.7 923.1 118.3 923.7C120 924.2 122.1 923.6 124 923.6C124.8 923.6 125.6 923.2 126.4 923.4C137.6 925.5 148.8 928 160 930.3C173.3 933.1 186.7 935.9 200 938.8C216.7 942.4 233.4 945.9 250 949.7C266.7 953.6 283.4 957.7 300 961.9C315.3 965.9 330.5 970.2 345.8 974.4" fill="none" stroke="#0a0a0a" stroke-width="0.8"/>
<path d="M121.6 907.1C121.7 910.2 121.7 913.3 121.9 916.5C122 918.6 121.4 921.6 122.4 922.9C123.2 923.9 125.8 923.1 127.4 923.4C138.3 925.3 149.1 927.4 160 929.5C173.3 932.1 186.7 934.8 200 937.5C216.7 940.9 233.4 944.2 250 947.9C266.7 951.6 283.4 955.6 300 959.7C315.3 963.5 330.5 967.7 345.8 971.7" fill="none" stroke="#0a0a0a" stroke-width="0.8"/>
<path d="M126.2 907.1C126.2 910 126.3 912.9 126.3 915.8C126.3 917.6 125.5 919.7 126 921.1C126.4 922.1 127.9 922.8 129 923C139.2 925.3 149.7 926.8 160 928.7C173.3 931.2 186.7 933.6 200 936.2C216.7 939.4 233.4 942.6 250 946.2C266.7 949.7 283.4 953.5 300 957.5C315.3 961.1 330.5 965.2 345.8 969" fill="none" stroke="#0a0a0a" stroke-width="0.8"/>
<path d="M130.6 907.1C130.5 909.6 130.6 912 130.4 914.5C130.2 916.4 128.8 918.6 129.3 920.2C129.7 921.4 131.5 922.4 133 922.8C141.8 925 151 926.3 160 927.9C173.3 930.3 186.7 932.5 200 934.9C216.7 937.9 233.4 941 250 944.4C266.7 947.8 283.4 951.4 300 955.2C315.3 958.8 330.5 962.8 345.8 966.6" fill="none" stroke="#0a0a0a" stroke-width="0.8"/>
<path d="M148.7 907.1C148.1 908.6 148 910.4 147 911.7C145.7 913.3 143.7 914.4 142 915.7C140.4 917 138.6 918 137 919.2C136.4 919.7 135.2 920.6 135.5 921C136.2 921.9 138.4 922.7 140 923.1C146.6 924.7 153.3 926 160 927.1C173.3 929.5 186.7 931.3 200 933.6C216.7 936.4 233.4 939.2 250 942.4C266.7 945.6 283.4 949.2 300 953C315.3 956.5 330.5 960.4 345.8 964.1" fill="none" stroke="#0a0a0a" stroke-width="0.8"/>
<path d="M153.1 907.1C153.6 909.6 153.4 912.4 154.5 914.6C155.4 916.4 157.2 918 159 919.1C162.4 921.1 166.2 922.6 170 923.9C174.9 925.7 179.9 927.3 185 928.6C189.9 929.8 195 930.8 200 931.6C210 933.1 220 934 230 935.5C238.4 936.7 246.7 937.8 255 939.5C265.1 941.6 275 944.5 285 946.8C305.2 951.5 325.5 955.8 345.8 960.3" fill="none" stroke="#0a0a0a" stroke-width="0.8"/>
<path d="M167.8 907.1C168.1 909.5 167.6 912.3 168.6 914.3C169.6 916.3 172 917.9 174 919.1C176.8 920.9 180 922.3 183.2 923.4C188.7 925.2 194.3 926.8 200 927.9C209.9 929.7 220 930.5 230 932.1C238.4 933.4 246.7 934.9 255 936.6C265 938.7 274.9 941.5 285 943.6C305.2 947.7 325.5 951.4 345.8 955.4" fill="none" stroke="#0a0a0a" stroke-width="0.8"/>
<path d="M208.8 907.1C210.8 909.8 212.4 913 214.8 915.3C216.8 917.3 219.5 918.7 222 920C224.5 921.2 227.3 922 230 922.9C238.3 925.5 246.6 928.2 255 930.4C264.9 932.9 275 935 285 937C305.2 941.1 325.5 944.8 345.8 948.7" fill="none" stroke="#0a0a0a" stroke-width="0.8"/>
<path d="M310.7 907.1C312.9 910.9 314.4 915.3 317.3 918.5C321 922.4 325.6 926 330.5 928.3C335.1 930.6 340.7 930.9 345.8 932.2" fill="none" stroke="#0a0a0a" stroke-width="0.8"/>
<path d="M132 922.5C141.3 924.1 150.7 925.9 160 927.5C173.3 929.8 186.7 931.9 200 934.2C216.7 937.2 233.4 940 250 943.3C266.7 946.6 283.4 950.3 300 954.1C315.3 957.6 330.5 961.5 345.8 965.2" fill="none" stroke="#021a10" stroke-width="0.55" stroke-opacity="0.75"/>
<path d="M132 922.9C141.3 924.7 150.7 926.5 160 928.3C173.3 930.7 186.7 933 200 935.5C216.7 938.6 233.4 941.7 250 945.1C266.7 948.6 283.4 952.3 300 956.2C315.3 959.8 330.5 963.8 345.8 967.5" fill="none" stroke="#021a10" stroke-width="0.55" stroke-opacity="0.75"/>
<path d="M132 923.4C141.3 925.3 150.7 927.2 160 929C173.3 931.6 186.7 934.1 200 936.8C216.7 940.1 233.4 943.4 250 946.9C266.7 950.6 283.4 954.4 300 958.4C315.3 962 330.5 966 345.8 969.8" fill="none" stroke="#021a10" stroke-width="0.55" stroke-opacity="0.75"/>
<path d="M132 923.9C141.3 925.9 150.7 927.8 160 929.8C173.3 932.6 186.7 935.2 200 938C216.7 941.6 233.4 945 250 948.8C266.7 952.5 283.4 956.5 300 960.5C315.3 964.2 330.5 968.2 345.8 972.1" fill="none" stroke="#021a10" stroke-width="0.55" stroke-opacity="0.75"/>
<path d="M132 924.4C141.3 926.4 150.7 928.5 160 930.5C173.3 933.5 186.7 936.3 200 939.3C216.7 943 233.4 946.7 250 950.6C266.7 954.5 283.4 958.5 300 962.6C315.3 966.4 330.5 970.5 345.8 974.4" fill="none" stroke="#021a10" stroke-width="0.55" stroke-opacity="0.75"/>
<path d="M132 924.9C141.3 927 150.7 929.1 160 931.3C173.3 934.4 186.7 937.5 200 940.6C216.7 944.5 233.4 948.4 250 952.4C266.7 956.4 283.4 960.6 300 964.8C315.3 968.7 330.5 972.7 345.8 976.6" fill="none" stroke="#021a10" stroke-width="0.55" stroke-opacity="0.75"/>
<path d="M132 925.4C141.3 927.6 150.7 929.8 160 932C173.3 935.3 186.7 938.6 200 941.9C216.7 946 233.3 950.1 250 954.2C266.7 958.4 283.3 962.6 300 966.9C315.3 970.9 330.5 974.9 345.8 978.9" fill="none" stroke="#021a10" stroke-width="0.55" stroke-opacity="0.75"/>
</g>
<path d="M51.8 907.5H345.8" stroke="#111" stroke-width="1"/>
<path d="M51.8 867.6L126.4 889.7M51.8 946.6L126.4 924.5" fill="none" stroke="#070b20" stroke-width="1.0" stroke-linecap="round"/>
<path d="M126.4 889.7L345.8 831.1M126.4 924.5L345.8 983.1" fill="none" stroke="#070b20" stroke-width="1.0" stroke-linecap="round"/>
<g stroke="#3c3c44" stroke-width="1.4" fill="none">
<path d="M52.1 804.4V1011.2H346.3"/>
<path d="M51.8 1009.7h3M51.8 998.3h3M51.8 986.9h3M51.8 975.5h3M51.8 964.1h5M51.8 952.7h3M51.8 941.3h3M51.8 929.9h3M51.8 918.5h3M51.8 907.1h5M51.8 895.7h3M51.8 884.3h3M51.8 872.9h3M51.8 861.5h3M51.8 850.1h5M51.8 838.7h3M51.8 827.3h3M51.8 815.9h3M51.8 804.5h3M51.8 1011.2v-5M66.5 1011.2v-3M95.9 1011.2v-3M110.6 1011.2v-3M125.3 1011.2v-5M140 1011.2v-3M154.7 1011.2v-3M169.4 1011.2v-3M184.1 1011.2v-3M198.8 1011.2v-5M213.5 1011.2v-3M228.2 1011.2v-3M242.9 1011.2v-3M257.6 1011.2v-3M272.3 1011.2v-5M287 1011.2v-3M301.7 1011.2v-3M316.4 1011.2v-3M331.1 1011.2v-3M345.8 1011.2v-5" stroke-width="1.05"/>
</g>
<g font-size="9.9" fill="#0c0c0c" letter-spacing="0.2" stroke="#0c0c0c" stroke-width="0.12">
<text x="48.3" y="853.5" text-anchor="end">5E-05</text>
<text x="48.3" y="910.5" text-anchor="end">0</text>
<text x="48.3" y="967.5" text-anchor="end">-5E-05</text>
<text x="51.5" y="1022.2" text-anchor="middle">0</text>
<text x="126.5" y="1022.2" text-anchor="middle">5E-05</text>
<text x="200" y="1022.2" text-anchor="middle">0.0001</text>
<text x="273.5" y="1022.2" text-anchor="middle">0.00015</text>
<text x="347" y="1022.2" text-anchor="middle">0.0002</text>
</g>
<text x="199.6" y="1039.2" text-anchor="middle" font-size="12.5" font-weight="bold" fill="#111" stroke="#111" stroke-width="0.3">X (m)</text>
<text transform="translate(10.6 904.9) rotate(-90)" text-anchor="middle" font-size="12.5" font-weight="bold" fill="#111" stroke="#111" stroke-width="0.3">Y (m)</text>
<rect x="144.5" y="961.1" width="4.1" height="10.4" fill="#0c2ce6"/>
<rect x="148.3" y="961.1" width="7.1" height="10.4" fill="#1c54f0"/>
<rect x="155.1" y="961.1" width="7.1" height="10.4" fill="#4baafa"/>
<rect x="161.9" y="961.1" width="7.1" height="10.4" fill="#6ef0a5"/>
<rect x="168.6" y="961.1" width="7.1" height="10.4" fill="#5af078"/>
<rect x="175.4" y="961.1" width="7.1" height="10.4" fill="#50ec50"/>
<rect x="182.2" y="961.1" width="7.1" height="10.4" fill="#50ec50"/>
<rect x="189" y="961.1" width="7.1" height="10.4" fill="#55ee46"/>
<rect x="195.7" y="961.1" width="7.1" height="10.4" fill="#aaf02d"/>
<rect x="202.5" y="961.1" width="7.1" height="10.4" fill="#e8f01e"/>
<rect x="209.3" y="961.1" width="7.1" height="10.4" fill="#ffa51c"/>
<rect x="216.1" y="961.1" width="10.9" height="10.4" fill="#ff4616"/>
<path d="M148.3 961.1v10.4M161.9 961.1v10.4M175.4 961.1v10.4M189 961.1v10.4M202.5 961.1v10.4M216.1 961.1v10.4" stroke="#111" stroke-width="0.7"/>
<rect x="144.5" y="961.1" width="82.2" height="10.4" fill="none" stroke="#111" stroke-width="0.9"/>
<g font-size="6.7" fill="#1a1a1a">
<text x="138" y="978.6" text-anchor="end">U (m/s):</text>
<text x="148.6" y="978.6" text-anchor="middle">50</text>
<text x="162.2" y="978.6" text-anchor="middle">150</text>
<text x="175.4" y="978.6" text-anchor="middle">250</text>
<text x="189.3" y="978.6" text-anchor="middle">350</text>
<text x="202.9" y="978.6" text-anchor="middle">450</text>
<text x="216.4" y="978.6" text-anchor="middle">550</text>
</g>
<g transform="translate(85 879) rotate(17)"><rect x="-4.9" y="-3.7" width="9.9" height="7.3" fill="#fff"/><text x="0" y="2.7" text-anchor="middle" font-size="7.6">50</text></g>
<g transform="translate(90.4 900) rotate(0)"><rect x="-7" y="-3.7" width="14.1" height="7.3" fill="#fff"/><text x="0" y="2.7" text-anchor="middle" font-size="7.6">150</text></g>
<g transform="translate(110 900) rotate(0)"><rect x="-7" y="-3.7" width="14.1" height="7.3" fill="#fff"/><text x="0" y="2.7" text-anchor="middle" font-size="7.6">200</text></g>
<g transform="translate(83.8 917.4) rotate(8)"><rect x="-7" y="-3.7" width="14.1" height="7.3" fill="#fff"/><text x="0" y="2.7" text-anchor="middle" font-size="7.6">150</text></g>
<g transform="translate(108.6 917.4) rotate(35)"><rect x="-7" y="-3.7" width="14.1" height="7.3" fill="#fff"/><text x="0" y="2.7" text-anchor="middle" font-size="7.6">200</text></g>
<g transform="translate(65.6 937) rotate(-10)"><rect x="-4.9" y="-3.7" width="9.9" height="7.3" fill="#fff"/><text x="0" y="2.7" text-anchor="middle" font-size="7.6">50</text></g>
<g transform="translate(140.7 900) rotate(0)"><rect x="-7" y="-3.7" width="14.1" height="7.3" fill="#fff"/><text x="0" y="2.7" text-anchor="middle" font-size="7.6">400</text></g>
<g transform="translate(142 915.5) rotate(0)"><rect x="-7" y="-3.7" width="14.1" height="7.3" fill="#fff"/><text x="0" y="2.7" text-anchor="middle" font-size="7.6">400</text></g>
<g transform="translate(169.4 898.3) rotate(-55)"><rect x="-7" y="-3.7" width="14.1" height="7.3" fill="#fff"/><text x="0" y="2.7" text-anchor="middle" font-size="7.6">500</text></g>
<g transform="translate(171.5 918.3) rotate(0)"><rect x="-7" y="-3.7" width="14.1" height="7.3" fill="#fff"/><text x="0" y="2.7" text-anchor="middle" font-size="7.6">500</text></g>
<g transform="translate(205 897.3) rotate(-52)"><rect x="-7" y="-3.7" width="14.1" height="7.3" fill="#fff"/><text x="0" y="2.7" text-anchor="middle" font-size="7.6">550</text></g>
<g transform="translate(225.3 921.4) rotate(20)"><rect x="-7" y="-3.7" width="14.1" height="7.3" fill="#fff"/><text x="0" y="2.7" text-anchor="middle" font-size="7.6">550</text></g>
<g transform="translate(235.9 868) rotate(-17)"><rect x="-7" y="-3.7" width="14.1" height="7.3" fill="#fff"/><text x="0" y="2.7" text-anchor="middle" font-size="7.6">350</text></g>
<g transform="translate(239 946.5) rotate(15)"><rect x="-7" y="-3.7" width="14.1" height="7.3" fill="#fff"/><text x="0" y="2.7" text-anchor="middle" font-size="7.6">350</text></g>
<g transform="translate(320.6 874.3) rotate(0)"><rect x="-7" y="-3.7" width="14.1" height="7.3" fill="#fff"/><text x="0" y="2.7" text-anchor="middle" font-size="7.6">600</text></g>
<g transform="translate(321.6 923.6) rotate(0)"><rect x="-7" y="-3.7" width="14.1" height="7.3" fill="#fff"/><text x="0" y="2.7" text-anchor="middle" font-size="7.6">600</text></g>
<g transform="translate(330.8 899.5) rotate(0)"><rect x="-6.7" y="-4.2" width="13.3" height="8.3" fill="#fff" stroke="#111" stroke-width="0.8"/><text x="0" y="2.7" text-anchor="middle" font-size="7.6" font-weight="bold">NS</text></g>
<g transform="translate(331.8 913.3) rotate(0)"><rect x="-12.1" y="-4.2" width="24.3" height="8.3" fill="#fff" stroke="#111" stroke-width="0.8"/><text x="0" y="2.7" text-anchor="middle" font-size="7.6" font-weight="bold">DSMC</text></g>
<g font-family="'Liberation Serif',serif" fill="#111"><text x="125.1" y="1054.8" font-weight="bold" font-size="15.8">(d)</text><text x="152.3" y="1054.8" font-size="12.8">Velocity contours</text></g>
</svg>
</body></html>
